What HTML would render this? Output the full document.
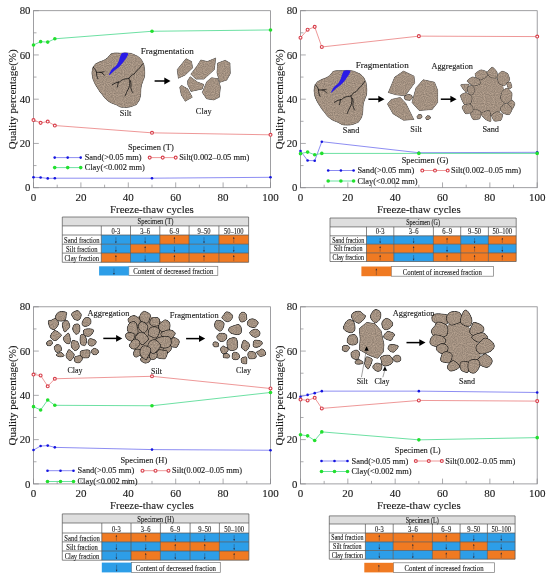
<!DOCTYPE html>
<html lang="en"><head><meta charset="utf-8"><title>Freeze-thaw cycles particle fractions</title>
<style>html,body{margin:0;padding:0;background:#fff}svg{display:block}[fill="#a39181"]{filter:url(#sp)}text{stroke:#1a1a1a;stroke-width:0.12px}</style></head>
<body>
<svg width="550" height="579" viewBox="0 0 550 579" font-family='"Liberation Serif", "DejaVu Serif", serif'>
<rect width="550" height="579" fill="#fff"/>
<defs><filter id="sp" x="-5%" y="-5%" width="110%" height="110%" color-interpolation-filters="sRGB"><feTurbulence type="fractalNoise" baseFrequency="0.9" numOctaves="1" seed="11"/><feColorMatrix type="matrix" values="1 0 0 0 0  1 0 0 0 0  1 0 0 0 0  0 0 0 0 1" result="n"/><feComposite in="SourceGraphic" in2="n" operator="arithmetic" k1="0.5" k2="0.75" k3="0" k4="0" result="m"/><feComposite in="m" in2="SourceGraphic" operator="in"/></filter></defs>
<rect x="33.5" y="10.7" width="237" height="177" fill="none" stroke="#88888c" stroke-width="0.8"/>
<line x1="33.5" y1="187.7" x2="33.5" y2="182.4" stroke="#88888c" stroke-width="0.7"/>
<line x1="57.2" y1="187.7" x2="57.2" y2="184.7" stroke="#88888c" stroke-width="0.7"/>
<line x1="80.9" y1="187.7" x2="80.9" y2="182.4" stroke="#88888c" stroke-width="0.7"/>
<line x1="104.6" y1="187.7" x2="104.6" y2="184.7" stroke="#88888c" stroke-width="0.7"/>
<line x1="128.3" y1="187.7" x2="128.3" y2="182.4" stroke="#88888c" stroke-width="0.7"/>
<line x1="152" y1="187.7" x2="152" y2="184.7" stroke="#88888c" stroke-width="0.7"/>
<line x1="175.7" y1="187.7" x2="175.7" y2="182.4" stroke="#88888c" stroke-width="0.7"/>
<line x1="199.4" y1="187.7" x2="199.4" y2="184.7" stroke="#88888c" stroke-width="0.7"/>
<line x1="223.1" y1="187.7" x2="223.1" y2="182.4" stroke="#88888c" stroke-width="0.7"/>
<line x1="246.8" y1="187.7" x2="246.8" y2="184.7" stroke="#88888c" stroke-width="0.7"/>
<line x1="270.5" y1="187.7" x2="270.5" y2="182.4" stroke="#88888c" stroke-width="0.7"/>
<line x1="33.5" y1="187.7" x2="38.8" y2="187.7" stroke="#88888c" stroke-width="0.7"/>
<line x1="33.5" y1="165.57" x2="36.5" y2="165.57" stroke="#88888c" stroke-width="0.7"/>
<line x1="33.5" y1="143.45" x2="38.8" y2="143.45" stroke="#88888c" stroke-width="0.7"/>
<line x1="33.5" y1="121.32" x2="36.5" y2="121.32" stroke="#88888c" stroke-width="0.7"/>
<line x1="33.5" y1="99.2" x2="38.8" y2="99.2" stroke="#88888c" stroke-width="0.7"/>
<line x1="33.5" y1="77.07" x2="36.5" y2="77.07" stroke="#88888c" stroke-width="0.7"/>
<line x1="33.5" y1="54.95" x2="38.8" y2="54.95" stroke="#88888c" stroke-width="0.7"/>
<line x1="33.5" y1="32.82" x2="36.5" y2="32.82" stroke="#88888c" stroke-width="0.7"/>
<line x1="33.5" y1="10.7" x2="38.8" y2="10.7" stroke="#88888c" stroke-width="0.7"/>
<text x="33.5" y="201" font-size="11" text-anchor="middle" fill="#1a1a1a" >0</text>
<text x="80.9" y="201" font-size="11" text-anchor="middle" fill="#1a1a1a" >20</text>
<text x="128.3" y="201" font-size="11" text-anchor="middle" fill="#1a1a1a" >40</text>
<text x="175.7" y="201" font-size="11" text-anchor="middle" fill="#1a1a1a" >60</text>
<text x="223.1" y="201" font-size="11" text-anchor="middle" fill="#1a1a1a" >80</text>
<text x="270.5" y="201" font-size="11" text-anchor="middle" fill="#1a1a1a" >100</text>
<text x="30.5" y="191.3" font-size="10.8" text-anchor="end" fill="#1a1a1a" >0</text>
<text x="30.5" y="147.05" font-size="10.8" text-anchor="end" fill="#1a1a1a" >20</text>
<text x="30.5" y="102.8" font-size="10.8" text-anchor="end" fill="#1a1a1a" >40</text>
<text x="30.5" y="58.55" font-size="10.8" text-anchor="end" fill="#1a1a1a" >60</text>
<text x="30.5" y="14.3" font-size="10.8" text-anchor="end" fill="#1a1a1a" >80</text>
<text x="151.9" y="212.9" font-size="10.9" text-anchor="middle" fill="#1a1a1a" >Freeze-thaw cycles</text>
<text x="16" y="99.3" font-size="11.0" text-anchor="middle" fill="#1a1a1a" transform="rotate(-90 16 99.3)">Quality percentage(%)</text>
<polyline points="33.5,44.99 40.61,41.67 47.72,42.12 54.83,38.8 152,31.28 270.5,29.95" fill="none" stroke="#5cdc98" stroke-width="0.9"/>
<circle cx="33.5" cy="44.99" r="1.8" fill="#22e02e"/>
<circle cx="40.61" cy="41.67" r="1.8" fill="#22e02e"/>
<circle cx="47.72" cy="42.12" r="1.8" fill="#22e02e"/>
<circle cx="54.83" cy="38.8" r="1.8" fill="#22e02e"/>
<circle cx="152" cy="31.28" r="1.8" fill="#22e02e"/>
<circle cx="270.5" cy="29.95" r="1.8" fill="#22e02e"/>
<polyline points="33.5,120 40.61,122.87 47.72,121.55 54.83,125.53 152,132.83 270.5,134.82" fill="none" stroke="#ec8c8c" stroke-width="0.9"/>
<circle cx="33.5" cy="120" r="1.45" fill="#fff" stroke="#d8404c" stroke-width="1.15"/>
<circle cx="40.61" cy="122.87" r="1.45" fill="#fff" stroke="#d8404c" stroke-width="1.15"/>
<circle cx="47.72" cy="121.55" r="1.45" fill="#fff" stroke="#d8404c" stroke-width="1.15"/>
<circle cx="54.83" cy="125.53" r="1.45" fill="#fff" stroke="#d8404c" stroke-width="1.15"/>
<circle cx="152" cy="132.83" r="1.45" fill="#fff" stroke="#d8404c" stroke-width="1.15"/>
<circle cx="270.5" cy="134.82" r="1.45" fill="#fff" stroke="#d8404c" stroke-width="1.15"/>
<polyline points="33.5,177.3 40.61,177.52 47.72,178.41 54.83,178.19 152,178.19 270.5,177.3" fill="none" stroke="#8080f0" stroke-width="0.9"/>
<circle cx="33.5" cy="177.3" r="1.3" fill="#1414e0"/>
<circle cx="40.61" cy="177.52" r="1.3" fill="#1414e0"/>
<circle cx="47.72" cy="178.41" r="1.3" fill="#1414e0"/>
<circle cx="54.83" cy="178.19" r="1.3" fill="#1414e0"/>
<circle cx="152" cy="178.19" r="1.3" fill="#1414e0"/>
<circle cx="270.5" cy="177.3" r="1.3" fill="#1414e0"/>
<text x="150.8" y="150" font-size="8.4" text-anchor="middle" fill="#1a1a1a" >Specimen (T)</text>
<line x1="54.7" y1="157.6" x2="80.7" y2="157.6" stroke="#8080f0" stroke-width="0.9"/>
<circle cx="54.7" cy="157.6" r="1.3" fill="#1414e0"/>
<circle cx="67.7" cy="157.6" r="1.3" fill="#1414e0"/>
<circle cx="80.7" cy="157.6" r="1.3" fill="#1414e0"/>
<text x="84.7" y="160.3" font-size="8.4" text-anchor="start" fill="#1a1a1a" >Sand(&gt;0.05 mm)</text>
<line x1="149.7" y1="157.6" x2="175.7" y2="157.6" stroke="#ec8c8c" stroke-width="0.9"/>
<circle cx="149.7" cy="157.6" r="1.45" fill="#fff" stroke="#d8404c" stroke-width="1.15"/>
<circle cx="162.7" cy="157.6" r="1.45" fill="#fff" stroke="#d8404c" stroke-width="1.15"/>
<circle cx="175.7" cy="157.6" r="1.45" fill="#fff" stroke="#d8404c" stroke-width="1.15"/>
<text x="179.2" y="160.3" font-size="8.4" text-anchor="start" fill="#1a1a1a" >Silt(0.002–0.05 mm)</text>
<line x1="54.7" y1="167.6" x2="80.7" y2="167.6" stroke="#5cdc98" stroke-width="0.9"/>
<circle cx="54.7" cy="167.6" r="1.8" fill="#22e02e"/>
<circle cx="67.7" cy="167.6" r="1.8" fill="#22e02e"/>
<circle cx="80.7" cy="167.6" r="1.8" fill="#22e02e"/>
<text x="84.7" y="170.3" font-size="8.4" text-anchor="start" fill="#1a1a1a" >Clay(&lt;0.002 mm)</text>
<path d="M112.36,53.27C115.42,52.49 116.22,52.99 120.64,52.89C125.05,52.79 125.01,52.35 128.91,52.89C132.81,53.43 132.32,53.57 135.27,54.93C138.23,56.29 137.84,55.88 139.98,57.98C142.12,60.09 142.07,60.17 143.29,62.82C144.51,65.47 144.16,64.52 144.56,67.91C144.97,71.3 145.26,71.81 144.82,75.55C144.38,79.28 143.83,78.86 142.91,81.91C141.99,84.96 141.99,83.27 141.38,87C140.77,90.73 141.47,91.84 140.62,95.91C139.77,99.98 140.14,99.56 138.2,102.27C136.27,104.99 137.37,104.67 133.36,106.09C129.36,107.52 127.93,107.96 123.18,107.62C118.43,107.28 119.62,106.58 115.55,104.82C111.47,103.05 111.64,103.89 107.91,101C104.18,98.12 104.43,97.56 101.55,94C98.66,90.44 99.13,90.86 97.09,87.64C95.05,84.41 95.2,84.79 93.91,81.91C92.62,79.02 92.76,79.87 92.25,76.82C91.75,73.76 91.49,73.51 92,70.46C92.51,67.4 92.64,67.47 94.16,65.36C95.69,63.26 94.74,64.19 97.73,62.56C100.71,60.93 102.31,61.05 105.36,59.25C108.42,57.46 107.32,57.41 109.18,55.82C111.05,54.22 109.31,54.05 112.36,53.27Z" fill="#a39181" stroke="#222" stroke-width="0.5"/>
<path d="M121.91,53.27C123.18,52.31 128.02,52.55 128.27,53.65C128.53,54.76 125.01,59.81 123.82,61.55C122.63,63.28 120.64,65.41 119.36,66.64C118.09,67.86 115.66,69.56 114.27,70.71C112.88,71.86 109.3,75.41 108.93,75.29C108.55,75.17 110.51,71.11 111.47,69.82C112.44,68.53 115.22,66.81 116.18,65.62C117.15,64.43 117.96,62.56 118.73,60.91C119.49,59.26 120.64,54.24 121.91,53.27Z" fill="#2a1be6"/>
<path d="M93.27,67.27C93.63,67.7 94.91,68.97 95.44,69.82C95.97,70.67 96.24,71.41 96.45,72.36C96.67,73.32 96.45,74.49 96.71,75.55C96.96,76.61 97.77,78.2 97.98,78.73" fill="none" stroke="#111" stroke-width="0.8" stroke-linejoin="round" stroke-linecap="round"/>
<path d="M96.45,72.36C97.3,72.41 100.23,72.13 101.55,72.62C102.86,73.11 103.88,74.85 104.35,75.29" fill="none" stroke="#111" stroke-width="0.8" stroke-linejoin="round" stroke-linecap="round"/>
<path d="M100.02,72.49C100.7,72.36 103.41,71.86 104.09,71.73" fill="none" stroke="#111" stroke-width="0.8" stroke-linejoin="round" stroke-linecap="round"/>
<path d="M142.53,63.84C142.1,64.47 140.87,66.59 139.98,67.65C139.09,68.72 138.18,69.14 137.18,70.2C136.19,71.26 135.02,73.13 134,74.02C132.98,74.91 131.92,74.82 131.07,75.55C130.23,76.27 129.84,77.79 128.91,78.35C127.98,78.9 126.64,78.58 125.47,78.86C124.31,79.13 122.89,79.49 121.91,80C120.93,80.51 120.57,81.46 119.62,81.91C118.66,82.36 117.39,82.21 116.18,82.67C114.97,83.14 113,84.37 112.36,84.71" fill="none" stroke="#111" stroke-width="0.8" stroke-linejoin="round" stroke-linecap="round"/>
<path d="M118.35,81.91C118.2,82.76 117.6,86.15 117.46,87" fill="none" stroke="#111" stroke-width="0.8" stroke-linejoin="round" stroke-linecap="round"/>
<path d="M128.91,78.35C129.06,79.15 129.8,81.63 129.8,83.18C129.8,84.73 129.38,86.26 128.91,87.64C128.44,89.02 127.64,90.08 127,91.46C126.36,92.83 125.41,95.17 125.09,95.91" fill="none" stroke="#111" stroke-width="0.8" stroke-linejoin="round" stroke-linecap="round"/>
<path d="M130.44,80.64C130.54,81.27 131.01,83.29 131.07,84.46C131.14,85.62 130.61,86.32 130.82,87.64C131.03,88.95 132.09,91.56 132.35,92.35" fill="none" stroke="#111" stroke-width="0.8" stroke-linejoin="round" stroke-linecap="round"/>
<line x1="154.6" y1="81" x2="165.3" y2="81" stroke="#000" stroke-width="1.5"/>
<polygon points="164.3,77.6 170.5,81 164.3,84.4" fill="#000"/>
<polygon points="177,69.55 186,58.42 191.73,61.36 192.87,67.91 185.18,75.27 178.15,78.55" fill="#a39181" stroke="#444" stroke-width="0.5" stroke-linejoin="round" />
<polygon points="190.58,74.13 196.64,66.27 200.73,59.73 207.27,61.36 215.95,57.76 214.64,69.55 204,79.36 195.82,79.36" fill="#a39181" stroke="#444" stroke-width="0.5" stroke-linejoin="round" />
<polygon points="217.42,63 225.27,60.05 230.18,63 230.51,73.64 226.91,80.18 219.55,82.64 216.76,72.82" fill="#a39181" stroke="#444" stroke-width="0.5" stroke-linejoin="round" />
<polygon points="187.31,81 190.09,76.42 197.46,81.82 204,84.27 202.36,89.18 190.91,91.64 187.64,85.09" fill="#a39181" stroke="#444" stroke-width="0.5" stroke-linejoin="round" />
<polygon points="202.04,92.46 206.46,81.82 211.36,77.4 217.91,78.55 220.69,86.73 219.55,97.36 213.82,100.15 206.46,99" fill="#a39181" stroke="#444" stroke-width="0.5" stroke-linejoin="round" />
<polygon points="179.46,87.22 181.42,85.09 187.96,88.86 192.55,97.36 185.18,101.46 181.09,94.91" fill="#a39181" stroke="#444" stroke-width="0.5" stroke-linejoin="round" />
<text x="167.3" y="53.8" font-size="9.1" text-anchor="middle" fill="#1a1a1a" >Fragmentation</text>
<text x="125.5" y="115.5" font-size="8.3" text-anchor="middle" fill="#1a1a1a" >Silt</text>
<text x="203.7" y="113.7" font-size="8.3" text-anchor="middle" fill="#1a1a1a" >Clay</text>
<rect x="300.5" y="10.7" width="236.7" height="177" fill="none" stroke="#88888c" stroke-width="0.8"/>
<line x1="300.5" y1="187.7" x2="300.5" y2="182.4" stroke="#88888c" stroke-width="0.7"/>
<line x1="324.17" y1="187.7" x2="324.17" y2="184.7" stroke="#88888c" stroke-width="0.7"/>
<line x1="347.84" y1="187.7" x2="347.84" y2="182.4" stroke="#88888c" stroke-width="0.7"/>
<line x1="371.51" y1="187.7" x2="371.51" y2="184.7" stroke="#88888c" stroke-width="0.7"/>
<line x1="395.18" y1="187.7" x2="395.18" y2="182.4" stroke="#88888c" stroke-width="0.7"/>
<line x1="418.85" y1="187.7" x2="418.85" y2="184.7" stroke="#88888c" stroke-width="0.7"/>
<line x1="442.52" y1="187.7" x2="442.52" y2="182.4" stroke="#88888c" stroke-width="0.7"/>
<line x1="466.19" y1="187.7" x2="466.19" y2="184.7" stroke="#88888c" stroke-width="0.7"/>
<line x1="489.86" y1="187.7" x2="489.86" y2="182.4" stroke="#88888c" stroke-width="0.7"/>
<line x1="513.53" y1="187.7" x2="513.53" y2="184.7" stroke="#88888c" stroke-width="0.7"/>
<line x1="537.2" y1="187.7" x2="537.2" y2="182.4" stroke="#88888c" stroke-width="0.7"/>
<line x1="300.5" y1="187.7" x2="305.8" y2="187.7" stroke="#88888c" stroke-width="0.7"/>
<line x1="300.5" y1="165.57" x2="303.5" y2="165.57" stroke="#88888c" stroke-width="0.7"/>
<line x1="300.5" y1="143.45" x2="305.8" y2="143.45" stroke="#88888c" stroke-width="0.7"/>
<line x1="300.5" y1="121.32" x2="303.5" y2="121.32" stroke="#88888c" stroke-width="0.7"/>
<line x1="300.5" y1="99.2" x2="305.8" y2="99.2" stroke="#88888c" stroke-width="0.7"/>
<line x1="300.5" y1="77.07" x2="303.5" y2="77.07" stroke="#88888c" stroke-width="0.7"/>
<line x1="300.5" y1="54.95" x2="305.8" y2="54.95" stroke="#88888c" stroke-width="0.7"/>
<line x1="300.5" y1="32.82" x2="303.5" y2="32.82" stroke="#88888c" stroke-width="0.7"/>
<line x1="300.5" y1="10.7" x2="305.8" y2="10.7" stroke="#88888c" stroke-width="0.7"/>
<text x="300.5" y="201" font-size="11" text-anchor="middle" fill="#1a1a1a" >0</text>
<text x="347.84" y="201" font-size="11" text-anchor="middle" fill="#1a1a1a" >20</text>
<text x="395.18" y="201" font-size="11" text-anchor="middle" fill="#1a1a1a" >40</text>
<text x="442.52" y="201" font-size="11" text-anchor="middle" fill="#1a1a1a" >60</text>
<text x="489.86" y="201" font-size="11" text-anchor="middle" fill="#1a1a1a" >80</text>
<text x="537.2" y="201" font-size="11" text-anchor="middle" fill="#1a1a1a" >100</text>
<text x="297.5" y="191.3" font-size="10.8" text-anchor="end" fill="#1a1a1a" >0</text>
<text x="297.5" y="147.05" font-size="10.8" text-anchor="end" fill="#1a1a1a" >20</text>
<text x="297.5" y="102.8" font-size="10.8" text-anchor="end" fill="#1a1a1a" >40</text>
<text x="297.5" y="58.55" font-size="10.8" text-anchor="end" fill="#1a1a1a" >60</text>
<text x="297.5" y="14.3" font-size="10.8" text-anchor="end" fill="#1a1a1a" >80</text>
<text x="418.75" y="212.9" font-size="10.9" text-anchor="middle" fill="#1a1a1a" >Freeze-thaw cycles</text>
<text x="283" y="99.3" font-size="11.0" text-anchor="middle" fill="#1a1a1a" transform="rotate(-90 283 99.3)">Quality percentage(%)</text>
<polyline points="300.5,150.97 307.6,160.49 314.7,160.71 321.8,141.68 418.85,152.74 537.2,152.3" fill="none" stroke="#8080f0" stroke-width="0.9"/>
<circle cx="300.5" cy="150.97" r="1.3" fill="#1414e0"/>
<circle cx="307.6" cy="160.49" r="1.3" fill="#1414e0"/>
<circle cx="314.7" cy="160.71" r="1.3" fill="#1414e0"/>
<circle cx="321.8" cy="141.68" r="1.3" fill="#1414e0"/>
<circle cx="418.85" cy="152.74" r="1.3" fill="#1414e0"/>
<circle cx="537.2" cy="152.3" r="1.3" fill="#1414e0"/>
<polyline points="300.5,153.63 307.6,152.08 314.7,154.73 321.8,153.41 418.85,153.41 537.2,153.41" fill="none" stroke="#5cdc98" stroke-width="0.9"/>
<circle cx="300.5" cy="153.63" r="1.8" fill="#22e02e"/>
<circle cx="307.6" cy="152.08" r="1.8" fill="#22e02e"/>
<circle cx="314.7" cy="154.73" r="1.8" fill="#22e02e"/>
<circle cx="321.8" cy="153.41" r="1.8" fill="#22e02e"/>
<circle cx="418.85" cy="153.41" r="1.8" fill="#22e02e"/>
<circle cx="537.2" cy="153.41" r="1.8" fill="#22e02e"/>
<polyline points="300.5,37.69 307.6,29.73 314.7,26.85 321.8,46.98 418.85,36.14 537.2,36.59" fill="none" stroke="#ec8c8c" stroke-width="0.9"/>
<circle cx="300.5" cy="37.69" r="1.45" fill="#fff" stroke="#d8404c" stroke-width="1.15"/>
<circle cx="307.6" cy="29.73" r="1.45" fill="#fff" stroke="#d8404c" stroke-width="1.15"/>
<circle cx="314.7" cy="26.85" r="1.45" fill="#fff" stroke="#d8404c" stroke-width="1.15"/>
<circle cx="321.8" cy="46.98" r="1.45" fill="#fff" stroke="#d8404c" stroke-width="1.15"/>
<circle cx="418.85" cy="36.14" r="1.45" fill="#fff" stroke="#d8404c" stroke-width="1.15"/>
<circle cx="537.2" cy="36.59" r="1.45" fill="#fff" stroke="#d8404c" stroke-width="1.15"/>
<text x="425" y="162.8" font-size="8.4" text-anchor="middle" fill="#1a1a1a" >Specimen (G)</text>
<line x1="328.2" y1="170.5" x2="353.6" y2="170.5" stroke="#8080f0" stroke-width="0.9"/>
<circle cx="328.2" cy="170.5" r="1.3" fill="#1414e0"/>
<circle cx="340.9" cy="170.5" r="1.3" fill="#1414e0"/>
<circle cx="353.6" cy="170.5" r="1.3" fill="#1414e0"/>
<text x="357.4" y="173.2" font-size="8.4" text-anchor="start" fill="#1a1a1a" >Sand(&gt;0.05 mm)</text>
<line x1="422.3" y1="170.5" x2="447.7" y2="170.5" stroke="#ec8c8c" stroke-width="0.9"/>
<circle cx="422.3" cy="170.5" r="1.45" fill="#fff" stroke="#d8404c" stroke-width="1.15"/>
<circle cx="435" cy="170.5" r="1.45" fill="#fff" stroke="#d8404c" stroke-width="1.15"/>
<circle cx="447.7" cy="170.5" r="1.45" fill="#fff" stroke="#d8404c" stroke-width="1.15"/>
<text x="451" y="173.2" font-size="8.4" text-anchor="start" fill="#1a1a1a" >Silt(0.002–0.05 mm)</text>
<line x1="328.2" y1="181" x2="353.6" y2="181" stroke="#5cdc98" stroke-width="0.9"/>
<circle cx="328.2" cy="181" r="1.8" fill="#22e02e"/>
<circle cx="340.9" cy="181" r="1.8" fill="#22e02e"/>
<circle cx="353.6" cy="181" r="1.8" fill="#22e02e"/>
<text x="357.4" y="183.7" font-size="8.4" text-anchor="start" fill="#1a1a1a" >Clay(&lt;0.002 mm)</text>
<path d="M334.46,70.87C337.52,70.09 338.32,70.59 342.74,70.49C347.15,70.39 347.11,69.95 351.01,70.49C354.91,71.03 354.42,71.17 357.37,72.53C360.33,73.89 359.94,73.48 362.08,75.58C364.22,77.69 364.17,77.77 365.39,80.42C366.61,83.07 366.26,82.12 366.66,85.51C367.07,88.9 367.36,89.41 366.92,93.15C366.48,96.88 365.93,96.46 365.01,99.51C364.09,102.56 364.09,100.87 363.48,104.6C362.87,108.33 363.57,109.44 362.72,113.51C361.87,117.58 362.24,117.16 360.3,119.87C358.37,122.59 359.47,122.27 355.46,123.69C351.46,125.12 350.03,125.56 345.28,125.22C340.53,124.88 341.72,124.18 337.65,122.42C333.57,120.65 333.74,121.49 330.01,118.6C326.28,115.72 326.53,115.16 323.65,111.6C320.76,108.04 321.23,108.46 319.19,105.24C317.15,102.01 317.3,102.39 316.01,99.51C314.72,96.62 314.86,97.47 314.35,94.42C313.85,91.36 313.59,91.11 314.1,88.06C314.61,85 314.74,85.07 316.26,82.96C317.79,80.86 316.84,81.79 319.83,80.16C322.81,78.53 324.41,78.65 327.46,76.85C330.52,75.06 329.42,75.01 331.28,73.42C333.15,71.82 331.41,71.65 334.46,70.87Z" fill="#a39181" stroke="#222" stroke-width="0.5"/>
<path d="M344.01,70.87C345.28,69.91 350.12,70.15 350.37,71.25C350.63,72.36 347.11,77.41 345.92,79.15C344.73,80.88 342.74,83.01 341.46,84.24C340.19,85.46 337.76,87.16 336.37,88.31C334.98,89.46 331.4,93.01 331.03,92.89C330.65,92.77 332.61,88.71 333.57,87.42C334.54,86.13 337.32,84.41 338.28,83.22C339.25,82.03 340.06,80.16 340.83,78.51C341.59,76.86 342.74,71.84 344.01,70.87Z" fill="#2a1be6"/>
<path d="M315.37,84.87C315.73,85.3 317.01,86.57 317.54,87.42C318.07,88.27 318.34,89.01 318.55,89.96C318.77,90.92 318.55,92.09 318.81,93.15C319.06,94.21 319.87,95.8 320.08,96.33" fill="none" stroke="#111" stroke-width="0.8" stroke-linejoin="round" stroke-linecap="round"/>
<path d="M318.55,89.96C319.4,90.01 322.33,89.73 323.65,90.22C324.96,90.71 325.98,92.45 326.45,92.89" fill="none" stroke="#111" stroke-width="0.8" stroke-linejoin="round" stroke-linecap="round"/>
<path d="M322.12,90.09C322.8,89.96 325.51,89.46 326.19,89.33" fill="none" stroke="#111" stroke-width="0.8" stroke-linejoin="round" stroke-linecap="round"/>
<path d="M364.63,81.44C364.2,82.07 362.97,84.19 362.08,85.25C361.19,86.32 360.28,86.74 359.28,87.8C358.29,88.86 357.12,90.73 356.1,91.62C355.08,92.51 354.02,92.42 353.17,93.15C352.33,93.87 351.94,95.39 351.01,95.95C350.08,96.5 348.74,96.18 347.57,96.46C346.41,96.73 344.99,97.09 344.01,97.6C343.03,98.11 342.67,99.06 341.72,99.51C340.76,99.96 339.49,99.81 338.28,100.27C337.07,100.74 335.1,101.97 334.46,102.31" fill="none" stroke="#111" stroke-width="0.8" stroke-linejoin="round" stroke-linecap="round"/>
<path d="M340.45,99.51C340.3,100.36 339.7,103.75 339.56,104.6" fill="none" stroke="#111" stroke-width="0.8" stroke-linejoin="round" stroke-linecap="round"/>
<path d="M351.01,95.95C351.16,96.75 351.9,99.23 351.9,100.78C351.9,102.33 351.48,103.86 351.01,105.24C350.54,106.62 349.74,107.68 349.1,109.06C348.46,110.43 347.51,112.77 347.19,113.51" fill="none" stroke="#111" stroke-width="0.8" stroke-linejoin="round" stroke-linecap="round"/>
<path d="M352.54,98.24C352.64,98.87 353.11,100.89 353.17,102.06C353.24,103.22 352.71,103.92 352.92,105.24C353.13,106.55 354.19,109.16 354.45,109.95" fill="none" stroke="#111" stroke-width="0.8" stroke-linejoin="round" stroke-linecap="round"/>
<line x1="368.4" y1="99.2" x2="379.3" y2="99.2" stroke="#000" stroke-width="1.5"/>
<polygon points="378.3,95.8 384.5,99.2 378.3,102.6" fill="#000"/>
<line x1="440.8" y1="99.2" x2="451.4" y2="99.2" stroke="#000" stroke-width="1.5"/>
<polygon points="450.4,95.8 456.6,99.2 450.4,102.6" fill="#000"/>
<polygon points="388,92.64 394.55,77.09 403.55,70.87 414.18,75.95 415,82.82 405.18,95.91 396.18,95.09" fill="#a39181" stroke="#444" stroke-width="0.5" stroke-linejoin="round" />
<polygon points="411.73,102.46 415.82,87.73 423.18,79.55 434.64,82 437.91,90.18 437.91,102.46 432.18,109.82 419.09,110.64" fill="#a39181" stroke="#444" stroke-width="0.5" stroke-linejoin="round" />
<polygon points="387.18,104.09 391.27,99.18 400.27,97.22 406,103.27 414.18,119.64 403.55,120.46 392.91,113.91" fill="#a39181" stroke="#444" stroke-width="0.5" stroke-linejoin="round" />
<polygon points="403.87,96.73 407.64,93.95 411.73,95.09 412.87,97.87 410.09,100.49 405.18,100" fill="#a39181" stroke="#222" stroke-width="0.6" stroke-linejoin="round" />
<polygon points="416.64,116.86 418.76,114.24 421.55,114.73 422.36,117.18 420.4,118.82 417.78,118.82" fill="#a39181" stroke="#222" stroke-width="0.6" stroke-linejoin="round" />
<polygon points="425.31,117.67 427.27,115.55 429.73,115.87 430.87,118 428.58,119.64 426.46,119.64" fill="#a39181" stroke="#222" stroke-width="0.6" stroke-linejoin="round" />
<path d="M474.44,82.03C478.69,77.17 481.58,75.29 487.45,75.09C493.32,74.89 495.75,77.72 499.59,81.16C503.44,84.6 502.71,84.77 503.93,89.83C505.14,94.89 506.62,97.18 504.8,102.84C502.97,108.51 501.79,111.28 496.12,114.12C490.46,116.95 486.18,116.4 480.51,114.98C474.85,113.57 474.47,112.5 471.84,108.05C469.21,103.59 468.63,101.98 469.24,95.9C469.84,89.83 470.19,86.88 474.44,82.03Z" fill="#a39181" stroke="#6b5d52" stroke-width="0.4"/>
<path d="M474.96,73.58C475.4,72.7 479.68,69.85 480.86,69.66C482.03,69.46 486.12,70.93 486.75,71.62C487.37,72.31 487.73,75.69 487.14,76.53C486.55,77.37 481.92,79.87 480.86,80.06C479.79,80.26 477.12,79.14 476.54,78.49C475.95,77.85 474.53,74.47 474.96,73.58Z" fill="#a39181" stroke="#333" stroke-width="0.5"/>
<path d="M486.76,72.9C486.85,71.82 491.21,67.11 492.25,67.01C493.29,66.91 496.67,70.84 497.16,71.92C497.65,73 497.75,77.22 497.16,77.81C496.57,78.4 492.31,78.3 491.27,77.81C490.23,77.32 486.66,73.98 486.76,72.9Z" fill="#a39181" stroke="#333" stroke-width="0.5"/>
<path d="M497.03,75.87C497.32,74.6 500.86,71.2 501.94,70.97C503.02,70.73 507.04,72.63 507.83,73.52C508.61,74.4 510.09,78.58 509.79,79.8C509.5,81.02 505.96,85.3 504.88,85.69C503.8,86.09 499.78,84.71 498.99,83.73C498.21,82.75 496.73,77.15 497.03,75.87Z" fill="#a39181" stroke="#333" stroke-width="0.5"/>
<path d="M506.62,83.29C506.81,82.56 510,81.52 510.54,81.91C511.09,82.3 512.31,86.49 512.12,87.21C511.92,87.94 509.13,89.57 508.58,89.18C508.03,88.78 506.42,84.01 506.62,83.29Z" fill="#a39181" stroke="#333" stroke-width="0.5"/>
<path d="M502.32,91.02C503.01,90 506.25,87.88 507.23,88.07C508.21,88.27 511.74,91.7 512.14,92.98C512.53,94.26 511.84,99.76 511.16,100.84C510.47,101.92 506.34,104.04 505.26,103.78C504.18,103.53 500.65,99.56 500.36,98.28C500.06,97.01 501.63,92.04 502.32,91.02Z" fill="#a39181" stroke="#333" stroke-width="0.5"/>
<path d="M507.29,103.86C507.68,102.98 511.41,99.94 512.2,99.94C512.98,99.94 515.14,102.88 515.14,103.86C515.14,104.84 512.88,109.26 512.2,109.75C511.51,110.24 508.76,109.36 508.27,108.77C507.78,108.18 506.9,104.75 507.29,103.86Z" fill="#a39181" stroke="#333" stroke-width="0.5"/>
<path d="M500.42,107.91C500.81,106.89 505.13,102.9 506.31,103C507.48,103.1 511.9,107.71 512.2,108.89C512.49,110.07 510.23,114.35 509.25,114.78C508.27,115.21 503.26,113.9 502.38,113.21C501.5,112.52 500.02,108.93 500.42,107.91Z" fill="#a39181" stroke="#333" stroke-width="0.5"/>
<path d="M491.36,115.35C491.66,114.37 496.12,111.52 497.25,111.42C498.39,111.32 502.36,113.48 502.75,114.37C503.15,115.25 502.03,119.57 501.18,120.26C500.34,120.95 495.29,121.73 494.31,121.24C493.33,120.75 491.07,116.33 491.36,115.35Z" fill="#a39181" stroke="#333" stroke-width="0.5"/>
<path d="M480.72,113.44C481.11,112.52 488.52,109.71 489.56,110.5C490.6,111.28 491.52,120.38 491.13,121.3C490.74,122.22 486.67,120.51 485.63,119.73C484.59,118.94 480.33,114.37 480.72,113.44Z" fill="#a39181" stroke="#333" stroke-width="0.5"/>
<path d="M469.76,112.26C469.96,111.18 473.95,108.96 475.06,108.92C476.18,108.88 480.46,110.89 480.96,111.87C481.45,112.85 480.76,117.96 479.97,118.74C479.19,119.53 474.12,120.37 473.1,119.72C472.08,119.07 469.57,113.34 469.76,112.26Z" fill="#a39181" stroke="#333" stroke-width="0.5"/>
<path d="M461.89,107.15C461.99,106.03 465.72,102.93 466.8,102.83C467.88,102.73 472.11,105.24 472.7,106.17C473.28,107.09 473.38,111.27 472.7,112.06C472.01,112.84 466.9,114.51 465.82,114.02C464.74,113.53 461.8,108.27 461.89,107.15Z" fill="#a39181" stroke="#333" stroke-width="0.5"/>
<path d="M460.19,95.42C460.39,94.24 464.91,92.38 466.08,92.47C467.26,92.57 471.48,95.32 471.98,96.4C472.47,97.48 471.78,102.49 470.99,103.27C470.21,104.06 465.2,105.04 464.12,104.26C463.04,103.47 460,96.6 460.19,95.42Z" fill="#a39181" stroke="#333" stroke-width="0.5"/>
<path d="M460.45,84.87C460.75,84.03 468.7,83.5 469.29,84.28C469.88,85.07 467.23,92.67 466.35,92.72C465.46,92.78 460.16,85.71 460.45,84.87Z" fill="#a39181" stroke="#333" stroke-width="0.5"/>
<path d="M467.2,87.22C467.59,86.4 471.32,84.97 472.11,85.26C472.89,85.55 475.05,89.19 475.05,90.17C475.05,91.15 472.79,94.74 472.11,95.08C471.42,95.41 468.67,94.29 468.18,93.51C467.69,92.72 466.8,88.05 467.2,87.22Z" fill="#a39181" stroke="#333" stroke-width="0.5"/>
<path d="M466.89,81.13C466.79,80.21 471.15,77.01 472.39,76.81C473.62,76.61 478.47,78.44 479.26,79.17C480.05,79.89 480.83,83.39 480.24,84.08C479.65,84.76 474.7,86.33 473.37,86.04C472.03,85.74 466.99,82.05 466.89,81.13Z" fill="#a39181" stroke="#333" stroke-width="0.5"/>
<text x="382.2" y="68.3" font-size="9.1" text-anchor="middle" fill="#1a1a1a" >Fragmentation</text>
<text x="452.2" y="68.5" font-size="8.3" text-anchor="middle" fill="#1a1a1a" >Aggregation</text>
<text x="351.1" y="133.2" font-size="8.3" text-anchor="middle" fill="#1a1a1a" >Sand</text>
<text x="416.1" y="131.8" font-size="8.3" text-anchor="middle" fill="#1a1a1a" >Silt</text>
<text x="490.7" y="131.8" font-size="8.3" text-anchor="middle" fill="#1a1a1a" >Sand</text>
<rect x="33.5" y="306.8" width="237" height="177.1" fill="none" stroke="#88888c" stroke-width="0.8"/>
<line x1="33.5" y1="483.9" x2="33.5" y2="478.6" stroke="#88888c" stroke-width="0.7"/>
<line x1="57.2" y1="483.9" x2="57.2" y2="480.9" stroke="#88888c" stroke-width="0.7"/>
<line x1="80.9" y1="483.9" x2="80.9" y2="478.6" stroke="#88888c" stroke-width="0.7"/>
<line x1="104.6" y1="483.9" x2="104.6" y2="480.9" stroke="#88888c" stroke-width="0.7"/>
<line x1="128.3" y1="483.9" x2="128.3" y2="478.6" stroke="#88888c" stroke-width="0.7"/>
<line x1="152" y1="483.9" x2="152" y2="480.9" stroke="#88888c" stroke-width="0.7"/>
<line x1="175.7" y1="483.9" x2="175.7" y2="478.6" stroke="#88888c" stroke-width="0.7"/>
<line x1="199.4" y1="483.9" x2="199.4" y2="480.9" stroke="#88888c" stroke-width="0.7"/>
<line x1="223.1" y1="483.9" x2="223.1" y2="478.6" stroke="#88888c" stroke-width="0.7"/>
<line x1="246.8" y1="483.9" x2="246.8" y2="480.9" stroke="#88888c" stroke-width="0.7"/>
<line x1="270.5" y1="483.9" x2="270.5" y2="478.6" stroke="#88888c" stroke-width="0.7"/>
<line x1="33.5" y1="483.9" x2="38.8" y2="483.9" stroke="#88888c" stroke-width="0.7"/>
<line x1="33.5" y1="461.76" x2="36.5" y2="461.76" stroke="#88888c" stroke-width="0.7"/>
<line x1="33.5" y1="439.62" x2="38.8" y2="439.62" stroke="#88888c" stroke-width="0.7"/>
<line x1="33.5" y1="417.49" x2="36.5" y2="417.49" stroke="#88888c" stroke-width="0.7"/>
<line x1="33.5" y1="395.35" x2="38.8" y2="395.35" stroke="#88888c" stroke-width="0.7"/>
<line x1="33.5" y1="373.21" x2="36.5" y2="373.21" stroke="#88888c" stroke-width="0.7"/>
<line x1="33.5" y1="351.07" x2="38.8" y2="351.07" stroke="#88888c" stroke-width="0.7"/>
<line x1="33.5" y1="328.94" x2="36.5" y2="328.94" stroke="#88888c" stroke-width="0.7"/>
<line x1="33.5" y1="306.8" x2="38.8" y2="306.8" stroke="#88888c" stroke-width="0.7"/>
<text x="33.5" y="497.2" font-size="11" text-anchor="middle" fill="#1a1a1a" >0</text>
<text x="80.9" y="497.2" font-size="11" text-anchor="middle" fill="#1a1a1a" >20</text>
<text x="128.3" y="497.2" font-size="11" text-anchor="middle" fill="#1a1a1a" >40</text>
<text x="175.7" y="497.2" font-size="11" text-anchor="middle" fill="#1a1a1a" >60</text>
<text x="223.1" y="497.2" font-size="11" text-anchor="middle" fill="#1a1a1a" >80</text>
<text x="270.5" y="497.2" font-size="11" text-anchor="middle" fill="#1a1a1a" >100</text>
<text x="30.5" y="487.5" font-size="10.8" text-anchor="end" fill="#1a1a1a" >0</text>
<text x="30.5" y="443.23" font-size="10.8" text-anchor="end" fill="#1a1a1a" >20</text>
<text x="30.5" y="398.95" font-size="10.8" text-anchor="end" fill="#1a1a1a" >40</text>
<text x="30.5" y="354.68" font-size="10.8" text-anchor="end" fill="#1a1a1a" >60</text>
<text x="30.5" y="310.4" font-size="10.8" text-anchor="end" fill="#1a1a1a" >80</text>
<text x="151.9" y="509.1" font-size="10.9" text-anchor="middle" fill="#1a1a1a" >Freeze-thaw cycles</text>
<text x="16" y="395.45" font-size="11.0" text-anchor="middle" fill="#1a1a1a" transform="rotate(-90 16 395.45)">Quality percentage(%)</text>
<polyline points="33.5,450.03 40.61,446.04 47.72,445.6 54.83,447.37 152,449.59 270.5,450.25" fill="none" stroke="#8080f0" stroke-width="0.9"/>
<circle cx="33.5" cy="450.03" r="1.3" fill="#1414e0"/>
<circle cx="40.61" cy="446.04" r="1.3" fill="#1414e0"/>
<circle cx="47.72" cy="445.6" r="1.3" fill="#1414e0"/>
<circle cx="54.83" cy="447.37" r="1.3" fill="#1414e0"/>
<circle cx="152" cy="449.59" r="1.3" fill="#1414e0"/>
<circle cx="270.5" cy="450.25" r="1.3" fill="#1414e0"/>
<polyline points="33.5,406.64 40.61,409.96 47.72,400 54.83,405.31 152,405.75 270.5,392.47" fill="none" stroke="#5cdc98" stroke-width="0.9"/>
<circle cx="33.5" cy="406.64" r="1.8" fill="#22e02e"/>
<circle cx="40.61" cy="409.96" r="1.8" fill="#22e02e"/>
<circle cx="47.72" cy="400" r="1.8" fill="#22e02e"/>
<circle cx="54.83" cy="405.31" r="1.8" fill="#22e02e"/>
<circle cx="152" cy="405.75" r="1.8" fill="#22e02e"/>
<circle cx="270.5" cy="392.47" r="1.8" fill="#22e02e"/>
<polyline points="33.5,374.54 40.61,375.43 47.72,386.27 54.83,378.75 152,376.31 270.5,388.49" fill="none" stroke="#ec8c8c" stroke-width="0.9"/>
<circle cx="33.5" cy="374.54" r="1.45" fill="#fff" stroke="#d8404c" stroke-width="1.15"/>
<circle cx="40.61" cy="375.43" r="1.45" fill="#fff" stroke="#d8404c" stroke-width="1.15"/>
<circle cx="47.72" cy="386.27" r="1.45" fill="#fff" stroke="#d8404c" stroke-width="1.15"/>
<circle cx="54.83" cy="378.75" r="1.45" fill="#fff" stroke="#d8404c" stroke-width="1.15"/>
<circle cx="152" cy="376.31" r="1.45" fill="#fff" stroke="#d8404c" stroke-width="1.15"/>
<circle cx="270.5" cy="388.49" r="1.45" fill="#fff" stroke="#d8404c" stroke-width="1.15"/>
<text x="143.8" y="462.5" font-size="8.4" text-anchor="middle" fill="#1a1a1a" >Specimen (H)</text>
<line x1="47.5" y1="470.7" x2="73.5" y2="470.7" stroke="#8080f0" stroke-width="0.9"/>
<circle cx="47.5" cy="470.7" r="1.3" fill="#1414e0"/>
<circle cx="60.5" cy="470.7" r="1.3" fill="#1414e0"/>
<circle cx="73.5" cy="470.7" r="1.3" fill="#1414e0"/>
<text x="77.5" y="473.4" font-size="8.4" text-anchor="start" fill="#1a1a1a" >Sand(&gt;0.05 mm)</text>
<line x1="142.5" y1="470.7" x2="168.5" y2="470.7" stroke="#ec8c8c" stroke-width="0.9"/>
<circle cx="142.5" cy="470.7" r="1.45" fill="#fff" stroke="#d8404c" stroke-width="1.15"/>
<circle cx="155.5" cy="470.7" r="1.45" fill="#fff" stroke="#d8404c" stroke-width="1.15"/>
<circle cx="168.5" cy="470.7" r="1.45" fill="#fff" stroke="#d8404c" stroke-width="1.15"/>
<text x="172" y="473.4" font-size="8.4" text-anchor="start" fill="#1a1a1a" >Silt(0.002–0.05 mm)</text>
<line x1="47.5" y1="481.5" x2="73.5" y2="481.5" stroke="#5cdc98" stroke-width="0.9"/>
<circle cx="47.5" cy="481.5" r="1.8" fill="#22e02e"/>
<circle cx="60.5" cy="481.5" r="1.8" fill="#22e02e"/>
<circle cx="73.5" cy="481.5" r="1.8" fill="#22e02e"/>
<text x="77.5" y="484.2" font-size="8.4" text-anchor="start" fill="#1a1a1a" >Clay(&lt;0.002 mm)</text>
<path d="M64.94,320.17C63.46,321.27 60.83,321.37 58.9,321.01C56.98,320.64 55.77,319.78 55.33,318.34C54.88,316.91 55.78,315.15 56.69,313.81C57.61,312.48 58,311.99 59.91,311.67C61.82,311.34 64.96,311.41 66.24,312.18C67.52,312.95 66.58,313.91 66.32,315.51C66.06,317.11 66.43,319.07 64.94,320.17Z" fill="#a39181" stroke="#111" stroke-width="0.75" stroke-linejoin="round"/>
<path d="M71.62,313.64C72.37,312.11 75.45,310.76 77.14,310.54C78.83,310.32 79.23,311.55 80.07,312.53C80.92,313.51 81.57,313.94 81.36,315.43C81.16,316.92 80.35,319.13 79.05,319.99C77.75,320.85 76.01,320.1 74.87,319.74C73.74,319.37 74.03,319.38 73.38,318.16C72.73,316.94 70.87,315.16 71.62,313.64Z" fill="#a39181" stroke="#111" stroke-width="0.75" stroke-linejoin="round"/>
<path d="M88.8,325.46C87.53,326.2 86.03,326.74 84.67,326.51C83.3,326.27 82.31,325.53 81.97,324.3C81.62,323.07 82.22,321.69 82.94,320.35C83.66,319.01 84.15,318 85.57,317.61C87,317.21 88.97,317.32 90.07,318.36C91.16,319.41 91.28,321.4 91.03,322.82C90.77,324.24 90.07,324.72 88.8,325.46Z" fill="#a39181" stroke="#111" stroke-width="0.75" stroke-linejoin="round"/>
<path d="M58.79,323.21C58.92,325.05 57.22,326.52 56.26,327.8C55.3,329.08 55.27,329.63 53.99,329.6C52.71,329.57 50.99,329.35 49.86,327.65C48.73,325.96 48.08,322.61 48.33,321.12C48.58,319.63 49.66,320.72 51.12,320.21C52.57,319.71 54.06,317.99 55.6,318.59C57.13,319.19 58.66,321.37 58.79,323.21Z" fill="#a39181" stroke="#111" stroke-width="0.75" stroke-linejoin="round"/>
<path d="M69.86,325.62C70.09,327.17 69.75,327.19 68.79,328.45C67.84,329.71 66.18,331.65 65.09,331.92C64.01,332.19 63.92,331.34 63.35,329.8C62.77,328.27 62.09,325.91 62.21,324.23C62.34,322.54 62.89,322.08 63.97,321.38C65.06,320.67 66.46,319.83 67.64,320.68C68.82,321.53 69.63,324.07 69.86,325.62Z" fill="#a39181" stroke="#111" stroke-width="0.75" stroke-linejoin="round"/>
<path d="M79.27,324.78C80.19,326.14 80.13,329.12 79.83,330.93C79.53,332.73 78.65,333.15 77.79,333.8C76.94,334.44 76.56,334.89 75.55,334.15C74.55,333.4 73.25,331.68 72.78,330.07C72.32,328.46 72.73,327.27 73.23,326.08C73.72,324.89 74.05,324.4 75.26,324.14C76.47,323.88 78.36,323.42 79.27,324.78Z" fill="#a39181" stroke="#111" stroke-width="0.75" stroke-linejoin="round"/>
<path d="M88.18,328.69C89.92,328.53 91.41,328.67 92.49,329.17C93.57,329.66 93.96,329.85 93.57,331.17C93.19,332.48 92.02,334.74 90.58,335.75C89.15,336.75 87.76,336.43 86.42,336.2C85.07,335.97 84.4,335.85 83.88,334.6C83.35,333.35 82.94,331.13 83.8,329.95C84.66,328.77 86.44,328.85 88.18,328.69Z" fill="#a39181" stroke="#111" stroke-width="0.75" stroke-linejoin="round"/>
<path d="M55.16,340.76C53.44,340.84 51.84,339.23 50.94,338.11C50.04,336.98 50.04,336.59 50.65,335.13C51.26,333.67 52.74,331.6 53.99,330.8C55.24,330.01 55.45,330.34 56.92,331.15C58.39,331.95 60.81,333.51 61.34,334.82C61.87,336.13 60.78,336.5 59.55,337.69C58.31,338.87 56.88,340.67 55.16,340.76Z" fill="#a39181" stroke="#111" stroke-width="0.75" stroke-linejoin="round"/>
<path d="M69.57,343.53C68.81,344.35 67.7,343.81 66.65,343.39C65.59,342.97 64.93,342.58 64.29,341.44C63.65,340.3 62.99,339.14 63.44,337.7C63.89,336.26 65.42,335.1 66.53,334.24C67.64,333.38 68.21,332.4 68.99,333.41C69.77,334.43 70.33,337.28 70.44,339.3C70.56,341.32 70.33,342.71 69.57,343.53Z" fill="#a39181" stroke="#111" stroke-width="0.75" stroke-linejoin="round"/>
<path d="M82.63,345.36C81.61,344.98 80.82,345.12 80.32,343.39C79.82,341.67 79.76,338.56 80.14,336.74C80.52,334.92 81.19,334.44 82.22,334.29C83.25,334.13 84.41,334.71 85.28,335.97C86.16,337.24 86.58,338.75 86.61,340.62C86.63,342.48 86.22,344.34 85.42,345.29C84.63,346.24 83.65,345.74 82.63,345.36Z" fill="#a39181" stroke="#111" stroke-width="0.75" stroke-linejoin="round"/>
<path d="M95.98,340.75C96.73,341.74 96.31,342.74 95.69,343.79C95.07,344.84 94.13,345.64 92.89,346C91.65,346.36 90.5,346.24 89.49,345.59C88.48,344.93 87.9,344.05 87.84,342.71C87.77,341.38 88.36,339.69 89.19,338.92C90.01,338.14 90.59,338.46 91.94,338.83C93.3,339.19 95.23,339.76 95.98,340.75Z" fill="#a39181" stroke="#111" stroke-width="0.75" stroke-linejoin="round"/>
<path d="M50.78,340.12C51.67,340.46 52.4,341.72 52.55,342.67C52.71,343.62 52.09,344.25 51.56,344.9C51.03,345.54 50.79,345.81 49.91,345.88C49.02,345.96 47.79,345.91 47.13,345.26C46.46,344.6 46.37,343.45 46.57,342.6C46.77,341.75 47.27,341.5 48.11,341C48.96,340.51 49.89,339.79 50.78,340.12Z" fill="#a39181" stroke="#111" stroke-width="0.75" stroke-linejoin="round"/>
<path d="M71.02,345.67C70.78,343.87 71.26,341.71 72.21,340.76C73.16,339.81 74.64,340.64 75.77,340.9C76.9,341.16 77.16,340.81 77.86,342.06C78.56,343.31 79.69,345.46 79.29,347.17C78.89,348.89 77.03,350.11 75.85,350.62C74.68,351.14 74.37,350.74 73.41,349.75C72.44,348.76 71.26,347.47 71.02,345.67Z" fill="#a39181" stroke="#111" stroke-width="0.75" stroke-linejoin="round"/>
<path d="M61.65,349.79C61.62,350.89 61.4,350.66 60.39,351.19C59.38,351.72 57.82,352.97 56.59,352.44C55.37,351.91 54.63,349.88 54.28,348.56C53.94,347.24 54.28,346.64 54.88,345.85C55.48,345.05 56.16,344.62 57.29,344.58C58.43,344.55 59.69,344.64 60.56,345.68C61.43,346.72 61.69,348.68 61.65,349.79Z" fill="#a39181" stroke="#111" stroke-width="0.75" stroke-linejoin="round"/>
<path d="M61.33,356.98C60.08,357.13 58.96,356.92 57.93,356.45C56.9,355.98 55.96,355.4 56.18,354.65C56.4,353.9 58.05,353.21 59.02,352.7C60,352.19 60.12,351.75 61.05,352.11C61.99,352.46 63.08,353.73 63.71,354.46C64.33,355.18 64.65,355.23 64.18,355.73C63.7,356.24 62.58,356.84 61.33,356.98Z" fill="#a39181" stroke="#111" stroke-width="0.75" stroke-linejoin="round"/>
<path d="M72.34,351.89C73.42,353.01 74.6,353.45 74.35,355.15C74.1,356.86 72.44,359.6 71.1,360.41C69.76,361.22 68.69,360.2 67.65,359.2C66.61,358.21 65.97,356.84 65.89,355.43C65.8,354.01 66.62,353.3 67.23,352.13C67.84,350.95 67.93,349.58 68.95,349.53C69.97,349.49 71.26,350.77 72.34,351.89Z" fill="#a39181" stroke="#111" stroke-width="0.75" stroke-linejoin="round"/>
<path d="M87.94,349.77C89.4,350.09 90,350.4 90.2,351.88C90.39,353.35 89.91,355.91 88.91,357.15C87.92,358.38 86.8,358.07 85.22,358.05C83.65,358.02 82.06,358.2 81.04,357.03C80.03,355.85 79.77,353.54 80.14,352.19C80.52,350.85 81.35,350.78 82.91,350.3C84.47,349.82 86.48,349.46 87.94,349.77Z" fill="#a39181" stroke="#111" stroke-width="0.75" stroke-linejoin="round"/>
<path d="M95.82,354.8C94.7,355.05 93.65,354.81 92.71,354.17C91.77,353.52 91.01,352.7 91.13,351.56C91.25,350.42 92.22,348.99 93.32,348.46C94.42,347.93 95.54,348.35 96.62,348.92C97.7,349.48 98.37,350.48 98.71,351.29C99.04,352.09 98.87,352.22 98.29,352.92C97.71,353.62 96.94,354.55 95.82,354.8Z" fill="#a39181" stroke="#111" stroke-width="0.75" stroke-linejoin="round"/>
<path d="M76.9,356.09C78.03,355.77 79.37,355.1 80.49,355.6C81.61,356.1 82.5,357.26 82.5,358.58C82.5,359.89 81.53,361.3 80.47,362.16C79.41,363.02 78.4,363.11 77.18,362.88C75.97,362.64 74.84,362.12 74.38,360.98C73.91,359.84 74.35,358.16 74.85,357.18C75.36,356.2 75.77,356.4 76.9,356.09Z" fill="#a39181" stroke="#111" stroke-width="0.75" stroke-linejoin="round"/>
<line x1="103.3" y1="338.4" x2="117.1" y2="338.4" stroke="#000" stroke-width="1.5"/>
<polygon points="116.1,335 122.3,338.4 116.1,341.8" fill="#000"/>
<path d="M131.07,320.66C132.83,318.66 137.64,316.44 140.93,315.73C144.21,315.03 147.73,315.61 150.78,316.44C153.83,317.26 156.52,319.37 159.22,320.66C161.92,321.95 164.85,322.06 166.96,324.18C169.07,326.29 170.64,330.63 171.89,333.32C173.13,336.02 174.54,338.13 174.42,340.36C174.3,342.59 172.89,344.35 171.18,346.69C169.47,349.04 167.55,352.44 164.15,354.43C160.75,356.43 154.41,358.07 150.78,358.65C147.14,359.24 144.91,359.12 142.33,357.95C139.75,356.78 137.17,354.31 135.3,351.62C133.42,348.92 132.13,344.35 131.07,341.77C130.02,339.19 129.08,338.48 128.96,336.14C128.85,333.79 130.02,330.27 130.37,327.69C130.72,325.11 129.32,322.65 131.07,320.66Z" fill="#a39181" stroke="none"/>
<path d="M140.35,321.39C140.06,322.94 139.21,325.31 137.49,326.01C135.77,326.71 133.59,325.8 131.76,324.9C129.93,324 128.97,322.88 128.36,321.51C127.74,320.14 127.57,319.26 128.69,318.05C129.81,316.84 131.91,315.4 133.96,315.46C136.01,315.51 137.68,317.12 138.96,318.31C140.24,319.5 140.64,319.85 140.35,321.39Z" fill="#a39181" stroke="#111" stroke-width="0.75" stroke-linejoin="round"/>
<path d="M149.63,318.82C149.04,320.53 149.04,322.59 147.38,323.12C145.73,323.65 142.91,322.73 141.35,321.45C139.79,320.16 139.41,318.58 139.58,316.71C139.76,314.84 141.09,313.16 142.23,312.1C143.37,311.04 143.67,310.92 145.28,311.41C146.9,311.9 149.44,313.07 150.31,314.56C151.18,316.04 150.21,317.1 149.63,318.82Z" fill="#a39181" stroke="#111" stroke-width="0.75" stroke-linejoin="round"/>
<path d="M155.81,317.49C157.25,317.59 158.41,317.24 159.13,318.67C159.84,320.11 160.02,323.16 159.36,324.67C158.7,326.17 157.17,325.95 155.81,326.2C154.45,326.45 153.8,326.58 152.56,325.92C151.32,325.26 149.74,324.44 149.61,322.89C149.47,321.35 150.64,319.27 151.88,318.19C153.12,317.11 154.36,317.4 155.81,317.49Z" fill="#a39181" stroke="#111" stroke-width="0.75" stroke-linejoin="round"/>
<path d="M169.2,330.28C168.49,332.08 168.19,332.33 166.36,332.39C164.53,332.44 161.57,331.98 160.04,330.54C158.52,329.1 158.21,327.02 158.73,325.18C159.25,323.34 161.24,322.4 162.64,321.32C164.05,320.25 164.31,319.38 165.76,319.79C167.21,320.2 169.21,321.28 169.9,323.38C170.58,325.47 169.9,328.48 169.2,330.28Z" fill="#a39181" stroke="#111" stroke-width="0.75" stroke-linejoin="round"/>
<path d="M129.04,333.56C128.16,332.12 127.05,330.45 127.23,328.32C127.41,326.19 128.4,324.21 129.93,322.91C131.47,321.6 133.43,321.05 134.91,321.79C136.39,322.54 136.79,324.2 137.34,326.62C137.89,329.04 138.81,332.11 137.66,333.89C136.52,335.67 133.32,335.59 131.6,335.52C129.87,335.46 129.91,335 129.04,333.56Z" fill="#a39181" stroke="#111" stroke-width="0.75" stroke-linejoin="round"/>
<path d="M138.79,328.56C137.95,326.91 138.1,325.92 138.69,324.54C139.27,323.15 140.18,321.76 141.71,321.64C143.23,321.52 145.07,322.7 146.31,323.93C147.55,325.16 148.07,326.18 147.92,327.78C147.78,329.37 146.59,330.91 145.58,331.91C144.58,332.91 144.26,333.45 142.9,332.78C141.54,332.11 139.64,330.21 138.79,328.56Z" fill="#a39181" stroke="#111" stroke-width="0.75" stroke-linejoin="round"/>
<path d="M159.57,331.73C159.26,333.74 157.94,336.96 156.2,337.9C154.46,338.84 152.44,337.03 150.86,336.42C149.29,335.81 148.68,336.29 148.33,334.85C147.98,333.41 148.14,330.84 149.1,329.22C150.05,327.6 151.37,327.01 153.11,326.74C154.84,326.48 156.46,326.88 157.76,327.88C159.05,328.88 159.88,329.73 159.57,331.73Z" fill="#a39181" stroke="#111" stroke-width="0.75" stroke-linejoin="round"/>
<path d="M160.77,333.74C160.9,332.52 162.19,331.96 164.07,331.17C165.96,330.39 168,329.51 170.21,329.81C172.41,330.1 174.32,331.44 175.1,332.64C175.88,333.83 175.09,334.48 174.11,335.77C173.12,337.05 172.31,338.77 170.17,339.07C168.04,339.37 165.3,338.33 163.42,337.26C161.54,336.2 160.64,334.95 160.77,333.74Z" fill="#a39181" stroke="#111" stroke-width="0.75" stroke-linejoin="round"/>
<path d="M129.15,340.56C127.89,340.08 126.97,339.48 126.24,338.31C125.51,337.14 125.04,335.91 125.49,334.73C125.94,333.54 126.7,332.58 128.48,332.39C130.26,332.21 133.11,332.99 134.37,333.8C135.63,334.6 135.14,335.04 134.76,336.43C134.39,337.81 133.63,339.88 132.5,340.71C131.38,341.53 130.4,341.04 129.15,340.56Z" fill="#a39181" stroke="#111" stroke-width="0.75" stroke-linejoin="round"/>
<path d="M135.27,337.68C135.55,335.88 137.67,333.49 139.44,332.58C141.22,331.68 142.34,331.94 144.15,333.15C145.97,334.37 148.2,336.85 148.52,338.66C148.84,340.47 146.99,340.98 145.76,342.2C144.54,343.41 143.92,344.85 142.38,344.72C140.84,344.6 139.49,342.99 138.06,341.58C136.64,340.17 134.99,339.48 135.27,337.68Z" fill="#a39181" stroke="#111" stroke-width="0.75" stroke-linejoin="round"/>
<path d="M170.36,346.31C169.28,345.22 170.11,343.52 170.35,342C170.59,340.49 170.58,339.58 171.58,338.73C172.58,337.87 173.79,337.24 175.35,337.73C176.91,338.22 178.91,339.51 179.36,341.2C179.81,342.89 178.33,344.93 177.61,346.18C176.88,347.42 177.19,347.41 175.75,347.43C174.3,347.46 171.44,347.39 170.36,346.31Z" fill="#a39181" stroke="#111" stroke-width="0.75" stroke-linejoin="round"/>
<path d="M131.04,342.23C132,340.84 132.75,339.57 134.17,339.14C135.59,338.72 136.98,339.19 138.14,340.08C139.29,340.98 140.16,342.1 139.95,343.62C139.73,345.15 138.41,346.62 137.04,347.73C135.67,348.83 134.65,349.48 133.11,349.14C131.57,348.81 129.76,347.44 129.35,346.06C128.93,344.67 130.07,343.61 131.04,342.23Z" fill="#a39181" stroke="#111" stroke-width="0.75" stroke-linejoin="round"/>
<path d="M163.25,350.94C162.35,350.23 162.68,349.99 163.1,349.08C163.52,348.16 163.94,347.11 165.34,346.36C166.75,345.6 168.89,344.9 170.12,345.31C171.35,345.71 171.45,347.24 171.49,348.36C171.53,349.48 171.1,350.04 170.31,350.89C169.53,351.75 168.98,352.62 167.57,352.63C166.15,352.64 164.14,351.65 163.25,350.94Z" fill="#a39181" stroke="#111" stroke-width="0.75" stroke-linejoin="round"/>
<path d="M139.32,355.74C138.27,356.35 137.17,357.39 136.02,357.26C134.87,357.13 134.02,356.24 133.58,355.08C133.14,353.92 133.33,352.62 133.81,351.45C134.29,350.29 134.75,349.55 135.98,349.23C137.21,348.92 138.91,348.86 139.97,349.85C141.02,350.85 141.39,353.01 141.26,354.19C141.13,355.36 140.37,355.12 139.32,355.74Z" fill="#a39181" stroke="#111" stroke-width="0.75" stroke-linejoin="round"/>
<path d="M156.24,353.93C156.67,352.46 157.4,350.75 158.64,349.98C159.89,349.21 160.72,349.77 162.46,350.07C164.21,350.36 166.67,349.93 167.37,351.46C168.06,352.99 166.83,356.22 165.93,357.72C165.03,359.22 164.77,359.04 162.87,358.96C160.98,358.88 157.78,358.32 156.45,357.32C155.12,356.31 155.8,355.39 156.24,353.93Z" fill="#a39181" stroke="#111" stroke-width="0.75" stroke-linejoin="round"/>
<path d="M149.71,361.26C149.14,362.16 149.01,362.13 148.01,362.5C147.02,362.88 146.24,363.6 144.74,363.13C143.25,362.66 141.1,361.38 140.56,360.16C140.03,358.93 141.04,357.7 142.07,357.01C143.1,356.32 143.95,356.52 145.71,356.72C147.47,356.91 150.08,357.08 150.88,357.99C151.68,358.89 150.29,360.36 149.71,361.26Z" fill="#a39181" stroke="#111" stroke-width="0.75" stroke-linejoin="round"/>
<path d="M156.38,352.52C157.54,353.31 157.44,354.47 157.27,355.72C157.11,356.97 156.69,358.01 155.55,358.76C154.41,359.51 152.81,359.87 151.6,359.48C150.38,359.1 149.78,358.06 149.48,356.83C149.18,355.6 149.7,354.36 150.1,353.35C150.5,352.34 150.22,351.94 151.47,351.77C152.73,351.6 155.22,351.73 156.38,352.52Z" fill="#a39181" stroke="#111" stroke-width="0.75" stroke-linejoin="round"/>
<path d="M170.92,339.49C171.43,341.2 171.85,343.32 170.68,345.06C169.51,346.8 167.76,348.13 165.07,348.19C162.39,348.26 159.2,347.02 157.27,345.39C155.35,343.76 154.9,341.71 155.44,340.05C155.98,338.38 157.44,337.77 159.97,337.06C162.51,336.35 165.92,336.01 168.11,336.49C170.3,336.98 170.4,337.78 170.92,339.49Z" fill="#a39181" stroke="#111" stroke-width="0.75" stroke-linejoin="round"/>
<path d="M152.4,353.46C150.74,352.76 148.44,350.61 147.78,348.36C147.13,346.11 148.04,343.92 149.14,342.19C150.23,340.46 151.69,339.98 153.28,339.72C154.87,339.46 155.62,339.69 157.08,340.88C158.53,342.08 160.75,343.49 160.56,345.68C160.36,347.87 157.72,350.27 156.09,351.82C154.46,353.38 154.06,354.15 152.4,353.46Z" fill="#a39181" stroke="#111" stroke-width="0.75" stroke-linejoin="round"/>
<path d="M143.14,345.99C144.83,345.22 146.97,345.88 148.53,346.73C150.09,347.57 151.06,348.16 150.92,350.2C150.77,352.24 148.84,355.02 147.83,356.93C146.81,358.83 147.26,360.03 145.85,359.71C144.44,359.39 141.93,357.17 140.77,355.34C139.62,353.52 139.6,352.45 140.07,350.58C140.54,348.71 141.45,346.76 143.14,345.99Z" fill="#a39181" stroke="#111" stroke-width="0.75" stroke-linejoin="round"/>
<line x1="186.1" y1="338.6" x2="200" y2="338.6" stroke="#000" stroke-width="1.5"/>
<polygon points="199,335.2 205.2,338.6 199,342" fill="#000"/>
<path d="M223.39,315.23C224.33,314 224.86,312.04 226.45,311.73C228.05,311.43 230.13,312.59 231.37,313.71C232.61,314.84 232.97,315.87 232.67,317.34C232.38,318.82 231.22,320.24 229.9,321.08C228.58,321.93 227.69,322.2 226.07,321.56C224.44,320.92 222.32,319.14 221.79,317.87C221.25,316.6 222.46,316.46 223.39,315.23Z" fill="#a39181" stroke="#111" stroke-width="0.75" stroke-linejoin="round"/>
<path d="M239.15,319.01C238.64,317.69 238.65,316.89 239.17,315.54C239.68,314.18 240.43,312.72 241.72,312.24C243.01,311.77 244.61,312.25 245.62,313.17C246.62,314.08 246.56,315.48 246.72,316.83C246.89,318.17 247.45,318.84 246.45,319.91C245.45,320.98 243.19,322.34 241.73,322.16C240.27,321.98 239.66,320.34 239.15,319.01Z" fill="#a39181" stroke="#111" stroke-width="0.75" stroke-linejoin="round"/>
<path d="M258.27,322.24C258.78,323.57 257.53,324.68 256.74,325.74C255.94,326.8 255.87,327.43 254.28,327.55C252.69,327.67 250.18,327.38 248.78,326.34C247.38,325.3 247.06,323.79 247.3,322.37C247.54,320.95 248.61,319.88 249.98,319.23C251.36,318.57 252.52,318.49 254.18,319.1C255.83,319.7 257.76,320.92 258.27,322.24Z" fill="#a39181" stroke="#111" stroke-width="0.75" stroke-linejoin="round"/>
<path d="M223.55,327.27C222.95,329.02 221.89,330.52 220.77,331.12C219.64,331.72 219.12,331.11 217.91,330.25C216.7,329.39 215.23,328.61 214.73,326.82C214.24,325.03 214.65,322.63 215.44,321.31C216.23,320 217.01,320.04 218.68,320.25C220.34,320.46 222.79,320.96 223.76,322.37C224.74,323.77 224.15,325.52 223.55,327.27Z" fill="#a39181" stroke="#111" stroke-width="0.75" stroke-linejoin="round"/>
<path d="M240.45,333.86C238.98,335.03 236.37,334.72 234.1,334.28C231.82,333.84 230.04,332.96 229.07,331.66C228.11,330.36 228.27,329.02 229.28,327.79C230.29,326.56 232.18,326.15 234.11,325.51C236.04,324.87 237.47,324.01 238.95,324.6C240.42,325.19 241.17,326.6 241.48,328.46C241.78,330.31 241.93,332.7 240.45,333.86Z" fill="#a39181" stroke="#111" stroke-width="0.75" stroke-linejoin="round"/>
<path d="M256.49,337.31C255.17,337.66 254.51,337.46 253.17,336.72C251.83,335.98 250.32,334.72 249.8,333.62C249.27,332.52 249.46,332.14 250.55,331.22C251.64,330.3 253.47,329.04 255.24,329.03C257.02,329.02 258.52,329.96 259.42,331.15C260.33,332.34 260.36,333.73 259.77,334.96C259.19,336.19 257.81,336.96 256.49,337.31Z" fill="#a39181" stroke="#111" stroke-width="0.75" stroke-linejoin="round"/>
<path d="M217.07,338.5C216.33,337.18 216.67,336.05 217.39,334.98C218.11,333.9 219.14,333.37 220.67,333.13C222.21,332.89 223.82,333.21 225.08,333.78C226.33,334.34 226.81,334.72 226.94,335.95C227.06,337.18 226.87,338.81 225.7,339.94C224.52,341.08 222.8,341.9 221.07,341.61C219.34,341.32 217.8,339.83 217.07,338.5Z" fill="#a39181" stroke="#111" stroke-width="0.75" stroke-linejoin="round"/>
<path d="M228.85,339.1C230.32,337.98 232.54,337.46 234.19,337.62C235.84,337.77 236.43,337.94 237.09,339.85C237.75,341.76 237.97,345.09 237.5,347.16C237.02,349.22 236.44,349.66 234.73,350.17C233.02,350.69 230.51,351.13 228.93,349.74C227.35,348.35 226.84,345.34 226.82,343.22C226.8,341.09 227.37,340.22 228.85,339.1Z" fill="#a39181" stroke="#111" stroke-width="0.75" stroke-linejoin="round"/>
<path d="M246.52,350.9C245.33,351.65 244.66,350.53 243.64,349.74C242.61,348.96 241.5,348.79 241.4,346.97C241.3,345.16 242.23,341.89 243.15,340.66C244.07,339.44 244.85,340.36 245.98,340.85C247.11,341.34 248.07,342.09 248.8,343.12C249.52,344.15 250.06,344.46 249.61,346.01C249.15,347.57 247.72,350.15 246.52,350.9Z" fill="#a39181" stroke="#111" stroke-width="0.75" stroke-linejoin="round"/>
<path d="M262.03,344.46C261.27,345.6 259.54,346.73 257.89,347.22C256.25,347.71 254.77,347.54 253.8,346.93C252.83,346.32 252.94,345.46 253.04,344.15C253.15,342.84 253.29,341.16 254.32,340.4C255.36,339.63 256.73,340.09 258.2,340.32C259.68,340.54 260.95,340.7 261.72,341.52C262.48,342.35 262.8,343.32 262.03,344.46Z" fill="#a39181" stroke="#111" stroke-width="0.75" stroke-linejoin="round"/>
<path d="M212.77,344.13C212.91,343.27 213.18,342.22 214.19,341.87C215.2,341.52 216.92,341.83 217.81,342.37C218.7,342.92 218.55,343.75 218.64,344.61C218.73,345.47 218.99,346.19 218.25,346.67C217.5,347.16 215.86,347.13 214.9,347.02C213.95,346.92 213.91,346.73 213.48,346.15C213.06,345.57 212.63,344.98 212.77,344.13Z" fill="#a39181" stroke="#111" stroke-width="0.75" stroke-linejoin="round"/>
<path d="M225.06,346.82C226.14,347.4 227.74,347.81 228.2,348.85C228.66,349.9 228.18,351.08 227.35,352.06C226.52,353.04 225.2,353.63 224.06,353.76C222.92,353.9 222.37,353.74 221.66,352.73C220.95,351.71 220.29,350.03 220.52,348.68C220.74,347.33 221.88,346.35 222.79,345.98C223.7,345.61 223.98,346.25 225.06,346.82Z" fill="#a39181" stroke="#111" stroke-width="0.75" stroke-linejoin="round"/>
<path d="M259.42,350.42C260.45,349.76 260.55,348.66 261.64,348.77C262.73,348.87 264.12,349.72 264.88,350.95C265.63,352.18 266.11,353.82 265.43,354.91C264.75,356 262.74,356.21 261.5,356.41C260.25,356.6 260.2,356.78 259.2,355.9C258.2,355.03 256.46,353.14 256.5,352.04C256.55,350.95 258.39,351.07 259.42,350.42Z" fill="#a39181" stroke="#111" stroke-width="0.75" stroke-linejoin="round"/>
<path d="M223.43,354.39C223.97,353.61 225.14,353.73 226.01,353.59C226.88,353.45 227.03,353.36 227.77,353.68C228.51,354 229.48,354.36 229.7,355.19C229.92,356.03 229.78,357.29 228.86,357.85C227.94,358.42 226.21,358.09 225.1,358.01C224,357.94 223.67,358.18 223.33,357.45C223,356.73 222.9,355.16 223.43,354.39Z" fill="#a39181" stroke="#111" stroke-width="0.75" stroke-linejoin="round"/>
<path d="M237.71,359.5C236.55,360 235,360.03 233.86,359.61C232.72,359.2 232.2,358.76 232.01,357.41C231.83,356.05 232.16,353.88 232.92,352.84C233.69,351.8 234.71,352.03 235.85,352.21C236.99,352.39 237.87,352.77 238.63,353.74C239.39,354.72 239.84,355.92 239.65,357.07C239.47,358.22 238.87,358.99 237.71,359.5Z" fill="#a39181" stroke="#111" stroke-width="0.75" stroke-linejoin="round"/>
<path d="M248.28,357.38C247.76,356.34 247.52,354.93 247.76,353.76C247.99,352.58 248.13,351.84 249.45,351.49C250.77,351.14 253.07,351.54 254.34,352C255.61,352.47 255.49,352.62 255.8,353.81C256.1,354.99 256.93,356.89 255.84,357.92C254.76,358.95 251.89,359.07 250.38,358.96C248.86,358.86 248.8,358.42 248.28,357.38Z" fill="#a39181" stroke="#111" stroke-width="0.75" stroke-linejoin="round"/>
<path d="M246.94,361.7C246.86,362.99 247.33,363.57 246.44,363.9C245.54,364.23 243.49,363.86 242.46,363.36C241.43,362.87 241.54,362.41 241.29,361.42C241.05,360.44 240.55,359.36 241.25,358.44C241.94,357.51 243.66,357 244.78,356.8C245.89,356.6 246.38,356.46 246.82,357.44C247.25,358.42 247.01,360.41 246.94,361.7Z" fill="#a39181" stroke="#111" stroke-width="0.75" stroke-linejoin="round"/>
<text x="108.4" y="316" font-size="8.4" text-anchor="middle" fill="#1a1a1a" >Aggregation</text>
<text x="194.2" y="317.8" font-size="8.4" text-anchor="middle" fill="#1a1a1a" >Fragmentation</text>
<text x="75" y="372.5" font-size="8" text-anchor="middle" fill="#1a1a1a" >Clay</text>
<text x="156.5" y="373.5" font-size="8" text-anchor="middle" fill="#1a1a1a" >Silt</text>
<text x="243.5" y="373" font-size="8" text-anchor="middle" fill="#1a1a1a" >Clay</text>
<rect x="300.5" y="306.8" width="236.7" height="177.1" fill="none" stroke="#88888c" stroke-width="0.8"/>
<line x1="300.5" y1="483.9" x2="300.5" y2="478.6" stroke="#88888c" stroke-width="0.7"/>
<line x1="324.17" y1="483.9" x2="324.17" y2="480.9" stroke="#88888c" stroke-width="0.7"/>
<line x1="347.84" y1="483.9" x2="347.84" y2="478.6" stroke="#88888c" stroke-width="0.7"/>
<line x1="371.51" y1="483.9" x2="371.51" y2="480.9" stroke="#88888c" stroke-width="0.7"/>
<line x1="395.18" y1="483.9" x2="395.18" y2="478.6" stroke="#88888c" stroke-width="0.7"/>
<line x1="418.85" y1="483.9" x2="418.85" y2="480.9" stroke="#88888c" stroke-width="0.7"/>
<line x1="442.52" y1="483.9" x2="442.52" y2="478.6" stroke="#88888c" stroke-width="0.7"/>
<line x1="466.19" y1="483.9" x2="466.19" y2="480.9" stroke="#88888c" stroke-width="0.7"/>
<line x1="489.86" y1="483.9" x2="489.86" y2="478.6" stroke="#88888c" stroke-width="0.7"/>
<line x1="513.53" y1="483.9" x2="513.53" y2="480.9" stroke="#88888c" stroke-width="0.7"/>
<line x1="537.2" y1="483.9" x2="537.2" y2="478.6" stroke="#88888c" stroke-width="0.7"/>
<line x1="300.5" y1="483.9" x2="305.8" y2="483.9" stroke="#88888c" stroke-width="0.7"/>
<line x1="300.5" y1="461.76" x2="303.5" y2="461.76" stroke="#88888c" stroke-width="0.7"/>
<line x1="300.5" y1="439.62" x2="305.8" y2="439.62" stroke="#88888c" stroke-width="0.7"/>
<line x1="300.5" y1="417.49" x2="303.5" y2="417.49" stroke="#88888c" stroke-width="0.7"/>
<line x1="300.5" y1="395.35" x2="305.8" y2="395.35" stroke="#88888c" stroke-width="0.7"/>
<line x1="300.5" y1="373.21" x2="303.5" y2="373.21" stroke="#88888c" stroke-width="0.7"/>
<line x1="300.5" y1="351.07" x2="305.8" y2="351.07" stroke="#88888c" stroke-width="0.7"/>
<line x1="300.5" y1="328.94" x2="303.5" y2="328.94" stroke="#88888c" stroke-width="0.7"/>
<line x1="300.5" y1="306.8" x2="305.8" y2="306.8" stroke="#88888c" stroke-width="0.7"/>
<text x="300.5" y="497.2" font-size="11" text-anchor="middle" fill="#1a1a1a" >0</text>
<text x="347.84" y="497.2" font-size="11" text-anchor="middle" fill="#1a1a1a" >20</text>
<text x="395.18" y="497.2" font-size="11" text-anchor="middle" fill="#1a1a1a" >40</text>
<text x="442.52" y="497.2" font-size="11" text-anchor="middle" fill="#1a1a1a" >60</text>
<text x="489.86" y="497.2" font-size="11" text-anchor="middle" fill="#1a1a1a" >80</text>
<text x="537.2" y="497.2" font-size="11" text-anchor="middle" fill="#1a1a1a" >100</text>
<text x="297.5" y="487.5" font-size="10.8" text-anchor="end" fill="#1a1a1a" >0</text>
<text x="297.5" y="443.23" font-size="10.8" text-anchor="end" fill="#1a1a1a" >20</text>
<text x="297.5" y="398.95" font-size="10.8" text-anchor="end" fill="#1a1a1a" >40</text>
<text x="297.5" y="354.68" font-size="10.8" text-anchor="end" fill="#1a1a1a" >60</text>
<text x="297.5" y="310.4" font-size="10.8" text-anchor="end" fill="#1a1a1a" >80</text>
<text x="418.75" y="509.1" font-size="10.9" text-anchor="middle" fill="#1a1a1a" >Freeze-thaw cycles</text>
<text x="283" y="395.45" font-size="11.0" text-anchor="middle" fill="#1a1a1a" transform="rotate(-90 283 395.45)">Quality percentage(%)</text>
<polyline points="300.5,396.68 307.6,394.91 314.7,393.14 321.8,391.14 418.85,391.14 537.2,392.47" fill="none" stroke="#8080f0" stroke-width="0.9"/>
<circle cx="300.5" cy="396.68" r="1.3" fill="#1414e0"/>
<circle cx="307.6" cy="394.91" r="1.3" fill="#1414e0"/>
<circle cx="314.7" cy="393.14" r="1.3" fill="#1414e0"/>
<circle cx="321.8" cy="391.14" r="1.3" fill="#1414e0"/>
<circle cx="418.85" cy="391.14" r="1.3" fill="#1414e0"/>
<circle cx="537.2" cy="392.47" r="1.3" fill="#1414e0"/>
<polyline points="300.5,399.56 307.6,400.44 314.7,397.79 321.8,408.41 418.85,400.44 537.2,401.11" fill="none" stroke="#ec8c8c" stroke-width="0.9"/>
<circle cx="300.5" cy="399.56" r="1.45" fill="#fff" stroke="#d8404c" stroke-width="1.15"/>
<circle cx="307.6" cy="400.44" r="1.45" fill="#fff" stroke="#d8404c" stroke-width="1.15"/>
<circle cx="314.7" cy="397.79" r="1.45" fill="#fff" stroke="#d8404c" stroke-width="1.15"/>
<circle cx="321.8" cy="408.41" r="1.45" fill="#fff" stroke="#d8404c" stroke-width="1.15"/>
<circle cx="418.85" cy="400.44" r="1.45" fill="#fff" stroke="#d8404c" stroke-width="1.15"/>
<circle cx="537.2" cy="401.11" r="1.45" fill="#fff" stroke="#d8404c" stroke-width="1.15"/>
<polyline points="300.5,434.75 307.6,435.86 314.7,440.51 321.8,431.88 418.85,439.85 537.2,437.63" fill="none" stroke="#5cdc98" stroke-width="0.9"/>
<circle cx="300.5" cy="434.75" r="1.8" fill="#22e02e"/>
<circle cx="307.6" cy="435.86" r="1.8" fill="#22e02e"/>
<circle cx="314.7" cy="440.51" r="1.8" fill="#22e02e"/>
<circle cx="321.8" cy="431.88" r="1.8" fill="#22e02e"/>
<circle cx="418.85" cy="439.85" r="1.8" fill="#22e02e"/>
<circle cx="537.2" cy="437.63" r="1.8" fill="#22e02e"/>
<text x="417.7" y="453" font-size="8.4" text-anchor="middle" fill="#1a1a1a" >Specimen (L)</text>
<line x1="321.5" y1="461" x2="347.5" y2="461" stroke="#8080f0" stroke-width="0.9"/>
<circle cx="321.5" cy="461" r="1.3" fill="#1414e0"/>
<circle cx="334.5" cy="461" r="1.3" fill="#1414e0"/>
<circle cx="347.5" cy="461" r="1.3" fill="#1414e0"/>
<text x="351.5" y="463.7" font-size="8.4" text-anchor="start" fill="#1a1a1a" >Sand(&gt;0.05 mm)</text>
<line x1="415.8" y1="461" x2="441.8" y2="461" stroke="#ec8c8c" stroke-width="0.9"/>
<circle cx="415.8" cy="461" r="1.45" fill="#fff" stroke="#d8404c" stroke-width="1.15"/>
<circle cx="428.8" cy="461" r="1.45" fill="#fff" stroke="#d8404c" stroke-width="1.15"/>
<circle cx="441.8" cy="461" r="1.45" fill="#fff" stroke="#d8404c" stroke-width="1.15"/>
<text x="445.3" y="463.7" font-size="8.4" text-anchor="start" fill="#1a1a1a" >Silt(0.002–0.05 mm)</text>
<line x1="321.5" y1="471.5" x2="347.5" y2="471.5" stroke="#5cdc98" stroke-width="0.9"/>
<circle cx="321.5" cy="471.5" r="1.8" fill="#22e02e"/>
<circle cx="334.5" cy="471.5" r="1.8" fill="#22e02e"/>
<circle cx="347.5" cy="471.5" r="1.8" fill="#22e02e"/>
<text x="351.5" y="474.2" font-size="8.4" text-anchor="start" fill="#1a1a1a" >Clay(&lt;0.002 mm)</text>
<polygon points="359.22,328.49 366.56,322.32 374.63,323.35 381.24,330.69 384.17,344.63 383.44,351.97 377.57,358.58 369.5,355.64 359.22,349.77 359.95,338.76" fill="#a39181" stroke="#222" stroke-width="0.6" stroke-linejoin="round" />
<path d="M356.86,322.77C355.14,321.94 352.84,320.32 351.96,318.43C351.08,316.53 351.05,314.75 352.47,313.28C353.88,311.82 356.86,310.93 359.04,311.09C361.22,311.26 362.07,312.98 363.37,314.11C364.67,315.23 366.11,315 365.55,316.71C364.98,318.41 362.3,321.4 360.56,322.61C358.82,323.82 358.58,323.61 356.86,322.77Z" fill="#a39181" stroke="#111" stroke-width="0.75" stroke-linejoin="round"/>
<path d="M370.37,316.78C370.27,314.51 371.85,312.3 373.18,310.88C374.51,309.47 375.52,309.34 377.03,309.7C378.54,310.06 380.12,310.82 380.72,312.68C381.33,314.55 380.97,317.03 380.06,319.03C379.15,321.04 377.47,322.05 376.19,322.69C374.92,323.33 374.85,323.41 373.68,322.23C372.52,321.05 370.47,319.05 370.37,316.78Z" fill="#a39181" stroke="#111" stroke-width="0.75" stroke-linejoin="round"/>
<path d="M388.56,318.85C390.08,319.63 392,321.06 392.58,322.69C393.16,324.33 392.67,325.58 391.46,327.01C390.25,328.43 388.21,329.57 386.52,329.82C384.83,330.07 383.95,329.7 383,328.26C382.06,326.82 381.4,324.52 381.81,322.63C382.21,320.74 383.67,319.56 385.02,318.81C386.38,318.05 387.05,318.07 388.56,318.85Z" fill="#a39181" stroke="#111" stroke-width="0.75" stroke-linejoin="round"/>
<path d="M350.18,332.74C348.08,332.42 344.99,331.13 343.85,329.45C342.7,327.78 343.55,326.29 344.46,324.35C345.37,322.41 346.63,320.41 348.38,319.75C350.12,319.1 351.86,319.81 353.2,321.08C354.53,322.35 354.82,324.13 355.05,326.12C355.28,328.11 355.33,329.72 354.36,331.05C353.39,332.37 352.28,333.05 350.18,332.74Z" fill="#a39181" stroke="#111" stroke-width="0.75" stroke-linejoin="round"/>
<path d="M393.01,337.68C392.28,338.91 392.39,340.1 391.02,340.43C389.65,340.75 387.67,340.13 386.16,339.31C384.66,338.5 383.34,337.88 383.5,336.36C383.65,334.83 385.45,332.6 386.92,331.71C388.38,330.82 389.28,331.39 390.83,331.91C392.38,332.43 394.22,333.13 394.65,334.29C395.09,335.44 393.74,336.45 393.01,337.68Z" fill="#a39181" stroke="#111" stroke-width="0.75" stroke-linejoin="round"/>
<path d="M357.86,342.19C357.4,344.1 355.61,344.72 353.85,345.11C352.08,345.49 350.4,344.89 349.04,344.13C347.68,343.37 347.15,342.89 347.04,341.32C346.94,339.75 347.57,337.6 348.51,336.27C349.46,334.95 350.24,334.84 351.77,334.7C353.29,334.55 354.94,334.04 356.16,335.54C357.38,337.04 358.33,340.28 357.86,342.19Z" fill="#a39181" stroke="#111" stroke-width="0.75" stroke-linejoin="round"/>
<path d="M388.3,349.59C387.46,348.43 387.9,347.54 388.32,346.52C388.74,345.49 388.85,344.76 390.39,344.45C391.94,344.13 394.43,344.56 396.03,344.95C397.63,345.35 398.49,345.28 398.4,346.43C398.32,347.58 396.79,349.52 395.61,350.7C394.43,351.89 393.97,352.56 392.5,352.34C391.04,352.12 389.13,350.76 388.3,349.59Z" fill="#a39181" stroke="#111" stroke-width="0.75" stroke-linejoin="round"/>
<path d="M343.15,345.73C344.1,345.21 345.85,345.05 347.18,345.41C348.52,345.77 349.52,346.66 349.82,347.53C350.11,348.39 349.35,348.86 348.66,349.73C347.97,350.59 347.6,351.73 346.37,351.86C345.14,351.99 343.31,351.16 342.52,350.38C341.73,349.61 342.28,348.91 342.41,347.98C342.54,347.05 342.19,346.24 343.15,345.73Z" fill="#a39181" stroke="#111" stroke-width="0.75" stroke-linejoin="round"/>
<path d="M356.93,349.99C358.34,350.27 359.08,351.37 359.51,352.74C359.94,354.1 359.53,355.48 359.08,356.82C358.62,358.15 358.57,359.15 357.24,359.42C355.9,359.7 353.67,359.3 352.39,358.18C351.12,357.05 350.85,355.17 350.87,353.81C350.88,352.44 351.25,352.1 352.46,351.34C353.67,350.57 355.52,349.71 356.93,349.99Z" fill="#a39181" stroke="#111" stroke-width="0.75" stroke-linejoin="round"/>
<path d="M360.21,359.93C361.34,360.37 362.39,361.19 362.79,361.98C363.2,362.77 363.24,363.4 362.25,363.86C361.26,364.32 359.12,364.28 357.84,364.27C356.57,364.27 356.48,364.37 355.89,363.85C355.31,363.33 354.67,362.51 354.92,361.69C355.17,360.88 356.08,360.13 357.14,359.78C358.2,359.43 359.08,359.49 360.21,359.93Z" fill="#a39181" stroke="#111" stroke-width="0.75" stroke-linejoin="round"/>
<path d="M369.85,366.75C368.98,368.21 368.71,369.49 367.67,369.01C366.63,368.53 365.16,365.96 364.64,364.36C364.11,362.75 364.67,362.51 365.05,360.99C365.43,359.46 365.19,357.2 366.54,356.74C367.9,356.28 370.71,357.7 371.8,358.69C372.9,359.68 372.41,360.09 372.01,361.7C371.62,363.31 370.72,365.29 369.85,366.75Z" fill="#a39181" stroke="#111" stroke-width="0.75" stroke-linejoin="round"/>
<path d="M388.16,365.58C386.18,366.21 384.26,366.46 382.85,365.48C381.44,364.49 381.48,362.38 381.12,360.65C380.76,358.92 379.59,357.93 381.06,356.82C382.52,355.72 386.18,354.72 388.46,355.12C390.74,355.52 391.59,357.39 392.44,358.83C393.29,360.28 393.58,360.99 392.73,362.34C391.87,363.69 390.14,364.96 388.16,365.58Z" fill="#a39181" stroke="#111" stroke-width="0.75" stroke-linejoin="round"/>
<path d="M395.41,361.84C394.22,361.34 393.43,360.12 392.93,359.25C392.43,358.38 392.33,358.29 392.91,357.48C393.49,356.66 394.49,355.52 395.82,355.19C397.16,354.86 398.57,354.96 399.59,355.82C400.62,356.68 401.1,358.32 400.96,359.51C400.82,360.69 400.02,361.28 398.91,361.74C397.8,362.21 396.61,362.33 395.41,361.84Z" fill="#a39181" stroke="#111" stroke-width="0.75" stroke-linejoin="round"/>
<path d="M379.71,363.41C380.92,363.78 381.5,363.9 381.86,365.08C382.21,366.25 382.18,368.01 381.49,369.28C380.81,370.54 379.87,371.29 378.45,371.41C377.04,371.53 375.57,370.87 374.42,369.89C373.27,368.91 372.43,367.84 372.71,366.5C372.99,365.17 374.4,363.83 375.8,363.21C377.2,362.59 378.5,363.03 379.71,363.41Z" fill="#a39181" stroke="#111" stroke-width="0.75" stroke-linejoin="round"/>
<polygon points="366.56,346.36 364.36,350.86 368.76,350.86" fill="#000"/>
<line x1="366.27" y1="350.8" x2="361.42" y2="377.22" stroke="#444" stroke-width="0.5"/>
<polygon points="384.91,366.33 382.71,370.83 387.11,370.83" fill="#000"/>
<line x1="384.61" y1="370.76" x2="382.85" y2="377.22" stroke="#444" stroke-width="0.5"/>
<text x="362.2" y="384" font-size="8" text-anchor="middle" fill="#1a1a1a" >Silt</text>
<text x="382" y="384" font-size="8" text-anchor="middle" fill="#1a1a1a" >Clay</text>
<line x1="406.5" y1="342.6" x2="420.3" y2="342.6" stroke="#000" stroke-width="1.5"/>
<polygon points="419.3,339.2 425.5,342.6 419.3,346" fill="#000"/>
<path d="M444.68,330.83C446.31,326.35 447.94,324.11 451.81,322.68C455.68,321.26 459.54,321.26 464.02,323.7C468.5,326.15 470.95,329.4 474.21,334.9C477.46,340.4 479.91,345.49 480.32,351.19C480.72,356.9 480.32,360.15 476.24,363.41C472.17,366.67 465.45,368.3 459.95,367.48C454.45,366.67 452.01,363.82 448.75,359.34C445.49,354.86 444.48,350.79 443.66,345.08C442.85,339.38 443.05,335.31 444.68,330.83Z" fill="#a39181" stroke="#6b5d52" stroke-width="0.4"/>
<path d="M444.31,314.2C447.17,314.63 447.25,314.76 448.06,316.42C448.87,318.08 449.56,320.67 448.34,322.5C447.13,324.32 444.73,325.5 441.98,325.53C439.23,325.57 436.61,323.84 434.6,322.66C432.58,321.47 432.08,321.29 431.91,319.61C431.74,317.94 431.27,315.36 433.75,314.28C436.23,313.19 441.45,313.77 444.31,314.2Z" fill="#a39181" stroke="#111" stroke-width="0.75" stroke-linejoin="round"/>
<path d="M449.57,312.6C451.55,311.14 453.91,311.3 456.13,311.55C458.35,311.8 459.52,312.06 460.67,313.86C461.83,315.65 462.94,318.47 461.91,320.54C460.89,322.6 457.87,323.33 455.55,324.17C453.23,325.01 452.17,325.8 450.31,324.74C448.46,323.67 446.4,321.28 446.26,318.86C446.11,316.43 447.6,314.06 449.57,312.6Z" fill="#a39181" stroke="#111" stroke-width="0.75" stroke-linejoin="round"/>
<path d="M460.36,320.54C460.49,318.04 461.83,313.98 463.17,311.96C464.51,309.95 465.37,309.27 467.05,310.47C468.73,311.68 470.66,315.38 471.56,318C472.46,320.62 472.14,321.9 471.56,323.58C470.99,325.27 470.51,326.26 468.7,326.43C466.89,326.6 464.16,325.61 462.5,324.43C460.83,323.25 460.22,323.03 460.36,320.54Z" fill="#a39181" stroke="#111" stroke-width="0.75" stroke-linejoin="round"/>
<path d="M479.72,333.43C477.74,334.41 475.97,335.87 473.95,335.6C471.93,335.34 470.02,334.2 469.63,332.1C469.24,330 471.06,327.06 472.01,325.11C472.96,323.16 472.34,322.27 474.39,322.36C476.43,322.44 480.36,323.87 482.26,325.54C484.15,327.2 484.38,329.11 483.87,330.69C483.37,332.27 481.7,332.45 479.72,333.43Z" fill="#a39181" stroke="#111" stroke-width="0.75" stroke-linejoin="round"/>
<path d="M431.29,332.2C430.66,329.45 433.57,327.46 435,325.4C436.42,323.34 436.03,321.8 438.42,321.89C440.81,321.98 445.16,323.4 446.93,325.83C448.71,328.26 447.89,331.84 447.3,334.04C446.71,336.23 445.8,335.81 443.97,336.83C442.15,337.85 440.71,340.07 438.18,339.15C435.64,338.22 431.93,334.95 431.29,332.2Z" fill="#a39181" stroke="#111" stroke-width="0.75" stroke-linejoin="round"/>
<path d="M482.85,341.86C480.84,342.54 479.67,342.6 477.67,342.05C475.68,341.49 473.99,340.25 472.88,339.07C471.78,337.9 470.73,337.4 472.14,336.17C473.55,334.93 477.35,333.39 479.93,332.9C482.51,332.41 483.5,332.57 485.06,333.72C486.62,334.87 488.19,337.02 487.75,338.65C487.31,340.28 484.87,341.18 482.85,341.86Z" fill="#a39181" stroke="#111" stroke-width="0.75" stroke-linejoin="round"/>
<path d="M438.48,335.09C440.69,335.42 442.19,336.04 443.65,337.27C445.11,338.5 446.37,339.42 445.78,341.24C445.18,343.06 442.98,345.36 440.68,346.37C438.38,347.38 436.44,347.03 434.27,346.3C432.09,345.58 430.12,344.89 429.79,342.76C429.46,340.63 430.9,337.17 432.64,335.63C434.38,334.1 436.28,334.77 438.48,335.09Z" fill="#a39181" stroke="#111" stroke-width="0.75" stroke-linejoin="round"/>
<path d="M475.82,347.29C475.99,345.01 477.99,343.83 479.92,341.98C481.85,340.13 482.84,337.87 485.48,338.03C488.13,338.19 491.58,340.58 493.16,342.78C494.73,344.97 494.79,346.89 493.35,349C491.9,351.12 488.79,352.46 485.93,353.34C483.08,354.21 481.09,354.6 479.07,353.39C477.05,352.18 475.65,349.57 475.82,347.29Z" fill="#a39181" stroke="#111" stroke-width="0.75" stroke-linejoin="round"/>
<path d="M436.56,346.95C436.91,345.76 437.39,345.41 438.76,344.74C440.14,344.06 441.57,343.1 443.43,343.59C445.29,344.09 447.48,345.46 448.06,347.21C448.63,348.95 447.49,351 446.29,352.31C445.08,353.62 443.89,354.08 442.03,353.76C440.18,353.43 438.09,352.05 437,350.69C435.9,349.33 436.2,348.14 436.56,346.95Z" fill="#a39181" stroke="#111" stroke-width="0.75" stroke-linejoin="round"/>
<path d="M484.03,354.2C486,353.3 485.73,353.75 487.39,354.97C489.05,356.19 491.92,358.03 492.31,360.32C492.7,362.61 490.98,365.08 489.32,366.41C487.67,367.73 486.51,367.7 484.06,366.96C481.61,366.21 478.37,364.16 477.07,362.67C475.76,361.17 476.14,361.18 477.53,359.48C478.92,357.79 482.06,355.11 484.03,354.2Z" fill="#a39181" stroke="#111" stroke-width="0.75" stroke-linejoin="round"/>
<path d="M444.06,352.05C445.54,351.45 447.35,351.45 448.99,352.15C450.64,352.84 452.09,353.46 452.29,355.5C452.48,357.55 451.21,360.94 449.96,362.37C448.71,363.79 447.86,362.92 446.04,362.63C444.22,362.34 441.75,362.41 440.86,360.91C439.97,359.41 440.96,356.88 441.6,355.11C442.24,353.33 442.58,352.64 444.06,352.05Z" fill="#a39181" stroke="#111" stroke-width="0.75" stroke-linejoin="round"/>
<path d="M458.44,368.31C457.14,369.38 454.86,370.48 452.94,370.88C451.02,371.29 449.91,371.37 448.83,370.32C447.74,369.27 446.87,367.52 447.51,365.63C448.16,363.75 450.59,361.78 452.07,360.91C453.54,360.05 453.41,360.38 454.88,361.31C456.36,362.24 458.72,364.16 459.44,365.56C460.15,366.96 459.73,367.25 458.44,368.31Z" fill="#a39181" stroke="#111" stroke-width="0.75" stroke-linejoin="round"/>
<path d="M469.78,367.29C469.51,369.15 469.52,371.31 468.18,372.16C466.85,373.01 464.66,372.2 463.1,371.54C461.55,370.88 460.99,370.51 460.42,368.86C459.85,367.2 459.58,364.77 460.24,363.24C460.89,361.72 461.84,361.32 463.7,361.24C465.57,361.16 468.33,361.63 469.55,362.84C470.76,364.05 470.06,365.42 469.78,367.29Z" fill="#a39181" stroke="#111" stroke-width="0.75" stroke-linejoin="round"/>
<path d="M479.87,365.37C479.47,367.6 478.09,370.19 476.54,371.75C474.98,373.31 473.75,373.58 472.1,373.18C470.45,372.79 468.98,372.09 468.29,369.77C467.61,367.44 467.49,363.63 468.68,361.56C469.87,359.5 472.28,359.62 474.26,359.43C476.23,359.24 477.43,359.42 478.56,360.61C479.68,361.79 480.27,363.14 479.87,365.37Z" fill="#a39181" stroke="#111" stroke-width="0.75" stroke-linejoin="round"/>
<text x="413.7" y="315.8" font-size="8.35" text-anchor="middle" fill="#1a1a1a" >Aggregation</text>
<text x="467" y="384" font-size="8" text-anchor="middle" fill="#1a1a1a" >Sand</text>
<rect x="62.3" y="217" width="186.3" height="8.9" fill="#dedede"/>
<rect x="62.3" y="225.9" width="186.3" height="36.4" fill="#fff"/>
<rect x="101.3" y="235" width="29.2" height="9.2" fill="#2d9ee8"/>
<rect x="130.5" y="235" width="29.3" height="9.2" fill="#2d9ee8"/>
<rect x="159.8" y="235" width="29.3" height="9.2" fill="#f07a22"/>
<rect x="189.1" y="235" width="29.8" height="9.2" fill="#2d9ee8"/>
<rect x="218.9" y="235" width="29.7" height="9.2" fill="#f07a22"/>
<rect x="101.3" y="244.2" width="29.2" height="8.9" fill="#2d9ee8"/>
<rect x="130.5" y="244.2" width="29.3" height="8.9" fill="#f07a22"/>
<rect x="159.8" y="244.2" width="29.3" height="8.9" fill="#2d9ee8"/>
<rect x="189.1" y="244.2" width="29.8" height="8.9" fill="#2d9ee8"/>
<rect x="218.9" y="244.2" width="29.7" height="8.9" fill="#2d9ee8"/>
<rect x="101.3" y="253.1" width="29.2" height="9.2" fill="#f07a22"/>
<rect x="130.5" y="253.1" width="29.3" height="9.2" fill="#2d9ee8"/>
<rect x="159.8" y="253.1" width="29.3" height="9.2" fill="#f07a22"/>
<rect x="189.1" y="253.1" width="29.8" height="9.2" fill="#f07a22"/>
<rect x="218.9" y="253.1" width="29.7" height="9.2" fill="#f07a22"/>
<line x1="62.3" y1="217" x2="248.6" y2="217" stroke="#555" stroke-width="0.7"/>
<line x1="62.3" y1="225.9" x2="248.6" y2="225.9" stroke="#555" stroke-width="0.7"/>
<line x1="62.3" y1="235" x2="248.6" y2="235" stroke="#555" stroke-width="0.7"/>
<line x1="62.3" y1="244.2" x2="248.6" y2="244.2" stroke="#555" stroke-width="0.7"/>
<line x1="62.3" y1="253.1" x2="248.6" y2="253.1" stroke="#555" stroke-width="0.7"/>
<line x1="62.3" y1="262.3" x2="248.6" y2="262.3" stroke="#555" stroke-width="0.7"/>
<line x1="62.3" y1="217" x2="62.3" y2="262.3" stroke="#555" stroke-width="0.7"/>
<line x1="101.3" y1="225.9" x2="101.3" y2="262.3" stroke="#555" stroke-width="0.7"/>
<line x1="130.5" y1="225.9" x2="130.5" y2="262.3" stroke="#555" stroke-width="0.7"/>
<line x1="159.8" y1="225.9" x2="159.8" y2="262.3" stroke="#555" stroke-width="0.7"/>
<line x1="189.1" y1="225.9" x2="189.1" y2="262.3" stroke="#555" stroke-width="0.7"/>
<line x1="218.9" y1="225.9" x2="218.9" y2="262.3" stroke="#555" stroke-width="0.7"/>
<line x1="248.6" y1="217" x2="248.6" y2="262.3" stroke="#555" stroke-width="0.7"/>
<text transform="translate(155.45,224.4) scale(0.82,1)" font-size="8" text-anchor="middle" fill="#1a1a1a">Specimen (T)</text>
<text transform="translate(115.9,233.6) scale(0.82,1)" font-size="8" text-anchor="middle" fill="#1a1a1a">0-3</text>
<text transform="translate(145.15,233.6) scale(0.82,1)" font-size="8" text-anchor="middle" fill="#1a1a1a">3–6</text>
<text transform="translate(174.45,233.6) scale(0.82,1)" font-size="8" text-anchor="middle" fill="#1a1a1a">6–9</text>
<text transform="translate(204,233.6) scale(0.82,1)" font-size="8" text-anchor="middle" fill="#1a1a1a">9–50</text>
<text transform="translate(233.75,233.6) scale(0.82,1)" font-size="8" text-anchor="middle" fill="#1a1a1a">50–100</text>
<text transform="translate(81.8,242.8) scale(0.8,1)" font-size="8.3" text-anchor="middle" fill="#1a1a1a">Sand fraction</text>
<line x1="115.9" y1="237.2" x2="115.9" y2="243" stroke="#2a2a3a" stroke-width="0.5" stroke-opacity="0.7"/>
<polygon points="115.1,241.4 115.9,243.2 116.7,241.4" fill="#2a2a3a"/>
<line x1="145.15" y1="237.2" x2="145.15" y2="243" stroke="#2a2a3a" stroke-width="0.5" stroke-opacity="0.7"/>
<polygon points="144.35,241.4 145.15,243.2 145.95,241.4" fill="#2a2a3a"/>
<line x1="174.45" y1="237.2" x2="174.45" y2="243" stroke="#2a2a3a" stroke-width="0.5" stroke-opacity="0.7"/>
<polygon points="173.65,238.8 174.45,237 175.25,238.8" fill="#2a2a3a"/>
<line x1="204" y1="237.2" x2="204" y2="243" stroke="#2a2a3a" stroke-width="0.5" stroke-opacity="0.7"/>
<polygon points="203.2,241.4 204,243.2 204.8,241.4" fill="#2a2a3a"/>
<line x1="233.75" y1="237.2" x2="233.75" y2="243" stroke="#2a2a3a" stroke-width="0.5" stroke-opacity="0.7"/>
<polygon points="232.95,238.8 233.75,237 234.55,238.8" fill="#2a2a3a"/>
<text transform="translate(81.8,251.7) scale(0.8,1)" font-size="8.3" text-anchor="middle" fill="#1a1a1a">Silt fraction</text>
<line x1="115.9" y1="246.4" x2="115.9" y2="251.9" stroke="#2a2a3a" stroke-width="0.5" stroke-opacity="0.7"/>
<polygon points="115.1,250.3 115.9,252.1 116.7,250.3" fill="#2a2a3a"/>
<line x1="145.15" y1="246.4" x2="145.15" y2="251.9" stroke="#2a2a3a" stroke-width="0.5" stroke-opacity="0.7"/>
<polygon points="144.35,248 145.15,246.2 145.95,248" fill="#2a2a3a"/>
<line x1="174.45" y1="246.4" x2="174.45" y2="251.9" stroke="#2a2a3a" stroke-width="0.5" stroke-opacity="0.7"/>
<polygon points="173.65,250.3 174.45,252.1 175.25,250.3" fill="#2a2a3a"/>
<line x1="204" y1="246.4" x2="204" y2="251.9" stroke="#2a2a3a" stroke-width="0.5" stroke-opacity="0.7"/>
<polygon points="203.2,250.3 204,252.1 204.8,250.3" fill="#2a2a3a"/>
<line x1="233.75" y1="246.4" x2="233.75" y2="251.9" stroke="#2a2a3a" stroke-width="0.5" stroke-opacity="0.7"/>
<polygon points="232.95,250.3 233.75,252.1 234.55,250.3" fill="#2a2a3a"/>
<text transform="translate(81.8,260.9) scale(0.8,1)" font-size="8.3" text-anchor="middle" fill="#1a1a1a">Clay fraction</text>
<line x1="115.9" y1="255.3" x2="115.9" y2="261.1" stroke="#2a2a3a" stroke-width="0.5" stroke-opacity="0.7"/>
<polygon points="115.1,256.9 115.9,255.1 116.7,256.9" fill="#2a2a3a"/>
<line x1="145.15" y1="255.3" x2="145.15" y2="261.1" stroke="#2a2a3a" stroke-width="0.5" stroke-opacity="0.7"/>
<polygon points="144.35,259.5 145.15,261.3 145.95,259.5" fill="#2a2a3a"/>
<line x1="174.45" y1="255.3" x2="174.45" y2="261.1" stroke="#2a2a3a" stroke-width="0.5" stroke-opacity="0.7"/>
<polygon points="173.65,256.9 174.45,255.1 175.25,256.9" fill="#2a2a3a"/>
<line x1="204" y1="255.3" x2="204" y2="261.1" stroke="#2a2a3a" stroke-width="0.5" stroke-opacity="0.7"/>
<polygon points="203.2,256.9 204,255.1 204.8,256.9" fill="#2a2a3a"/>
<line x1="233.75" y1="255.3" x2="233.75" y2="261.1" stroke="#2a2a3a" stroke-width="0.5" stroke-opacity="0.7"/>
<polygon points="232.95,256.9 233.75,255.1 234.55,256.9" fill="#2a2a3a"/>
<rect x="128.8" y="266.3" width="89" height="9.2" fill="#fff" stroke="#777" stroke-width="0.7"/>
<rect x="99.1" y="266.3" width="29.7" height="9.2" fill="#2d9ee8"/>
<line x1="113.95" y1="268.5" x2="113.95" y2="274.5" stroke="#2a2a3a" stroke-width="0.5" stroke-opacity="0.7"/>
<polygon points="113.15,272.9 113.95,274.7 114.75,272.9" fill="#2a2a3a"/>
<text transform="translate(173.3,273.9) scale(0.82,1)" font-size="8.3" text-anchor="middle" fill="#1a1a1a">Content of decreased fraction</text>
<rect x="330" y="218" width="186.2" height="8.9" fill="#dedede"/>
<rect x="330" y="226.9" width="186.2" height="34.6" fill="#fff"/>
<rect x="366.5" y="235.8" width="27.3" height="8.4" fill="#2d9ee8"/>
<rect x="393.8" y="235.8" width="39.6" height="8.4" fill="#2d9ee8"/>
<rect x="433.4" y="235.8" width="27.3" height="8.4" fill="#f07a22"/>
<rect x="460.7" y="235.8" width="27.7" height="8.4" fill="#2d9ee8"/>
<rect x="488.4" y="235.8" width="27.8" height="8.4" fill="#f07a22"/>
<rect x="366.5" y="244.2" width="27.3" height="8.7" fill="#f07a22"/>
<rect x="393.8" y="244.2" width="39.6" height="8.7" fill="#f07a22"/>
<rect x="433.4" y="244.2" width="27.3" height="8.7" fill="#2d9ee8"/>
<rect x="460.7" y="244.2" width="27.7" height="8.7" fill="#f07a22"/>
<rect x="488.4" y="244.2" width="27.8" height="8.7" fill="#2d9ee8"/>
<rect x="366.5" y="252.9" width="27.3" height="8.6" fill="#f07a22"/>
<rect x="393.8" y="252.9" width="39.6" height="8.6" fill="#2d9ee8"/>
<rect x="433.4" y="252.9" width="27.3" height="8.6" fill="#f07a22"/>
<rect x="460.7" y="252.9" width="27.7" height="8.6" fill="#f07a22"/>
<rect x="488.4" y="252.9" width="27.8" height="8.6" fill="#f07a22"/>
<line x1="330" y1="218" x2="516.2" y2="218" stroke="#555" stroke-width="0.7"/>
<line x1="330" y1="226.9" x2="516.2" y2="226.9" stroke="#555" stroke-width="0.7"/>
<line x1="330" y1="235.8" x2="516.2" y2="235.8" stroke="#555" stroke-width="0.7"/>
<line x1="330" y1="244.2" x2="516.2" y2="244.2" stroke="#555" stroke-width="0.7"/>
<line x1="330" y1="252.9" x2="516.2" y2="252.9" stroke="#555" stroke-width="0.7"/>
<line x1="330" y1="261.5" x2="516.2" y2="261.5" stroke="#555" stroke-width="0.7"/>
<line x1="330" y1="218" x2="330" y2="261.5" stroke="#555" stroke-width="0.7"/>
<line x1="366.5" y1="226.9" x2="366.5" y2="261.5" stroke="#555" stroke-width="0.7"/>
<line x1="393.8" y1="226.9" x2="393.8" y2="261.5" stroke="#555" stroke-width="0.7"/>
<line x1="433.4" y1="226.9" x2="433.4" y2="261.5" stroke="#555" stroke-width="0.7"/>
<line x1="460.7" y1="226.9" x2="460.7" y2="261.5" stroke="#555" stroke-width="0.7"/>
<line x1="488.4" y1="226.9" x2="488.4" y2="261.5" stroke="#555" stroke-width="0.7"/>
<line x1="516.2" y1="218" x2="516.2" y2="261.5" stroke="#555" stroke-width="0.7"/>
<text transform="translate(423.1,225.4) scale(0.82,1)" font-size="7.4" text-anchor="middle" fill="#1a1a1a">Specimen (G)</text>
<text transform="translate(380.15,234.4) scale(0.82,1)" font-size="8" text-anchor="middle" fill="#1a1a1a">0-3</text>
<text transform="translate(413.6,234.4) scale(0.82,1)" font-size="8" text-anchor="middle" fill="#1a1a1a">3–6</text>
<text transform="translate(447.05,234.4) scale(0.82,1)" font-size="8" text-anchor="middle" fill="#1a1a1a">6–9</text>
<text transform="translate(474.55,234.4) scale(0.82,1)" font-size="8" text-anchor="middle" fill="#1a1a1a">9–50</text>
<text transform="translate(502.3,234.4) scale(0.82,1)" font-size="8" text-anchor="middle" fill="#1a1a1a">50–100</text>
<text transform="translate(348.25,242.56) scale(0.8,1)" font-size="7.5" text-anchor="middle" fill="#1a1a1a">Sand fraction</text>
<line x1="380.15" y1="238" x2="380.15" y2="243" stroke="#2a2a3a" stroke-width="0.5" stroke-opacity="0.7"/>
<polygon points="379.35,241.4 380.15,243.2 380.95,241.4" fill="#2a2a3a"/>
<line x1="413.6" y1="238" x2="413.6" y2="243" stroke="#2a2a3a" stroke-width="0.5" stroke-opacity="0.7"/>
<polygon points="412.8,241.4 413.6,243.2 414.4,241.4" fill="#2a2a3a"/>
<line x1="447.05" y1="238" x2="447.05" y2="243" stroke="#2a2a3a" stroke-width="0.5" stroke-opacity="0.7"/>
<polygon points="446.25,239.6 447.05,237.8 447.85,239.6" fill="#2a2a3a"/>
<line x1="474.55" y1="238" x2="474.55" y2="243" stroke="#2a2a3a" stroke-width="0.5" stroke-opacity="0.7"/>
<polygon points="473.75,241.4 474.55,243.2 475.35,241.4" fill="#2a2a3a"/>
<line x1="502.3" y1="238" x2="502.3" y2="243" stroke="#2a2a3a" stroke-width="0.5" stroke-opacity="0.7"/>
<polygon points="501.5,239.6 502.3,237.8 503.1,239.6" fill="#2a2a3a"/>
<text transform="translate(348.25,251.26) scale(0.8,1)" font-size="7.5" text-anchor="middle" fill="#1a1a1a">Silt fraction</text>
<line x1="380.15" y1="246.4" x2="380.15" y2="251.7" stroke="#2a2a3a" stroke-width="0.5" stroke-opacity="0.7"/>
<polygon points="379.35,248 380.15,246.2 380.95,248" fill="#2a2a3a"/>
<line x1="413.6" y1="246.4" x2="413.6" y2="251.7" stroke="#2a2a3a" stroke-width="0.5" stroke-opacity="0.7"/>
<polygon points="412.8,248 413.6,246.2 414.4,248" fill="#2a2a3a"/>
<line x1="447.05" y1="246.4" x2="447.05" y2="251.7" stroke="#2a2a3a" stroke-width="0.5" stroke-opacity="0.7"/>
<polygon points="446.25,250.1 447.05,251.9 447.85,250.1" fill="#2a2a3a"/>
<line x1="474.55" y1="246.4" x2="474.55" y2="251.7" stroke="#2a2a3a" stroke-width="0.5" stroke-opacity="0.7"/>
<polygon points="473.75,248 474.55,246.2 475.35,248" fill="#2a2a3a"/>
<line x1="502.3" y1="246.4" x2="502.3" y2="251.7" stroke="#2a2a3a" stroke-width="0.5" stroke-opacity="0.7"/>
<polygon points="501.5,250.1 502.3,251.9 503.1,250.1" fill="#2a2a3a"/>
<text transform="translate(348.25,259.86) scale(0.8,1)" font-size="7.5" text-anchor="middle" fill="#1a1a1a">Clay fraction</text>
<line x1="380.15" y1="255.1" x2="380.15" y2="260.3" stroke="#2a2a3a" stroke-width="0.5" stroke-opacity="0.7"/>
<polygon points="379.35,256.7 380.15,254.9 380.95,256.7" fill="#2a2a3a"/>
<line x1="413.6" y1="255.1" x2="413.6" y2="260.3" stroke="#2a2a3a" stroke-width="0.5" stroke-opacity="0.7"/>
<polygon points="412.8,258.7 413.6,260.5 414.4,258.7" fill="#2a2a3a"/>
<line x1="447.05" y1="255.1" x2="447.05" y2="260.3" stroke="#2a2a3a" stroke-width="0.5" stroke-opacity="0.7"/>
<polygon points="446.25,256.7 447.05,254.9 447.85,256.7" fill="#2a2a3a"/>
<line x1="474.55" y1="255.1" x2="474.55" y2="260.3" stroke="#2a2a3a" stroke-width="0.5" stroke-opacity="0.7"/>
<polygon points="473.75,256.7 474.55,254.9 475.35,256.7" fill="#2a2a3a"/>
<line x1="502.3" y1="255.1" x2="502.3" y2="260.3" stroke="#2a2a3a" stroke-width="0.5" stroke-opacity="0.7"/>
<polygon points="501.5,256.7 502.3,254.9 503.1,256.7" fill="#2a2a3a"/>
<rect x="391.3" y="266.5" width="102.1" height="9.7" fill="#fff" stroke="#777" stroke-width="0.7"/>
<rect x="361.4" y="266.5" width="29.9" height="9.7" fill="#f07a22"/>
<line x1="376.35" y1="268.7" x2="376.35" y2="275.2" stroke="#2a2a3a" stroke-width="0.5" stroke-opacity="0.7"/>
<polygon points="375.55,270.3 376.35,268.5 377.15,270.3" fill="#2a2a3a"/>
<text transform="translate(442.35,274.6) scale(0.82,1)" font-size="8.3" text-anchor="middle" fill="#1a1a1a">Content of increased fraction</text>
<rect x="62.3" y="513.9" width="186.6" height="9.1" fill="#dedede"/>
<rect x="62.3" y="523" width="186.6" height="37.2" fill="#fff"/>
<rect x="101.8" y="533" width="29.2" height="8.9" fill="#f07a22"/>
<rect x="131" y="533" width="29.4" height="8.9" fill="#f07a22"/>
<rect x="160.4" y="533" width="29.7" height="8.9" fill="#2d9ee8"/>
<rect x="190.1" y="533" width="29.3" height="8.9" fill="#2d9ee8"/>
<rect x="219.4" y="533" width="29.5" height="8.9" fill="#2d9ee8"/>
<rect x="101.8" y="541.9" width="29.2" height="9.1" fill="#2d9ee8"/>
<rect x="131" y="541.9" width="29.4" height="9.1" fill="#2d9ee8"/>
<rect x="160.4" y="541.9" width="29.7" height="9.1" fill="#f07a22"/>
<rect x="190.1" y="541.9" width="29.3" height="9.1" fill="#f07a22"/>
<rect x="219.4" y="541.9" width="29.5" height="9.1" fill="#2d9ee8"/>
<rect x="101.8" y="551" width="29.2" height="9.2" fill="#2d9ee8"/>
<rect x="131" y="551" width="29.4" height="9.2" fill="#f07a22"/>
<rect x="160.4" y="551" width="29.7" height="9.2" fill="#2d9ee8"/>
<rect x="190.1" y="551" width="29.3" height="9.2" fill="#2d9ee8"/>
<rect x="219.4" y="551" width="29.5" height="9.2" fill="#f07a22"/>
<line x1="62.3" y1="513.9" x2="248.9" y2="513.9" stroke="#555" stroke-width="0.7"/>
<line x1="62.3" y1="523" x2="248.9" y2="523" stroke="#555" stroke-width="0.7"/>
<line x1="62.3" y1="533" x2="248.9" y2="533" stroke="#555" stroke-width="0.7"/>
<line x1="62.3" y1="541.9" x2="248.9" y2="541.9" stroke="#555" stroke-width="0.7"/>
<line x1="62.3" y1="551" x2="248.9" y2="551" stroke="#555" stroke-width="0.7"/>
<line x1="62.3" y1="560.2" x2="248.9" y2="560.2" stroke="#555" stroke-width="0.7"/>
<line x1="62.3" y1="513.9" x2="62.3" y2="560.2" stroke="#555" stroke-width="0.7"/>
<line x1="101.8" y1="523" x2="101.8" y2="560.2" stroke="#555" stroke-width="0.7"/>
<line x1="131" y1="523" x2="131" y2="560.2" stroke="#555" stroke-width="0.7"/>
<line x1="160.4" y1="523" x2="160.4" y2="560.2" stroke="#555" stroke-width="0.7"/>
<line x1="190.1" y1="523" x2="190.1" y2="560.2" stroke="#555" stroke-width="0.7"/>
<line x1="219.4" y1="523" x2="219.4" y2="560.2" stroke="#555" stroke-width="0.7"/>
<line x1="248.9" y1="513.9" x2="248.9" y2="560.2" stroke="#555" stroke-width="0.7"/>
<text transform="translate(155.6,521.5) scale(0.82,1)" font-size="8" text-anchor="middle" fill="#1a1a1a">Specimen (H)</text>
<text transform="translate(116.4,531.6) scale(0.82,1)" font-size="8" text-anchor="middle" fill="#1a1a1a">0-3</text>
<text transform="translate(145.7,531.6) scale(0.82,1)" font-size="8" text-anchor="middle" fill="#1a1a1a">3–6</text>
<text transform="translate(175.25,531.6) scale(0.82,1)" font-size="8" text-anchor="middle" fill="#1a1a1a">6–9</text>
<text transform="translate(204.75,531.6) scale(0.82,1)" font-size="8" text-anchor="middle" fill="#1a1a1a">9–50</text>
<text transform="translate(234.15,531.6) scale(0.82,1)" font-size="8" text-anchor="middle" fill="#1a1a1a">50–100</text>
<text transform="translate(82.05,540.5) scale(0.8,1)" font-size="8.3" text-anchor="middle" fill="#1a1a1a">Sand fraction</text>
<line x1="116.4" y1="535.2" x2="116.4" y2="540.7" stroke="#2a2a3a" stroke-width="0.5" stroke-opacity="0.7"/>
<polygon points="115.6,536.8 116.4,535 117.2,536.8" fill="#2a2a3a"/>
<line x1="145.7" y1="535.2" x2="145.7" y2="540.7" stroke="#2a2a3a" stroke-width="0.5" stroke-opacity="0.7"/>
<polygon points="144.9,536.8 145.7,535 146.5,536.8" fill="#2a2a3a"/>
<line x1="175.25" y1="535.2" x2="175.25" y2="540.7" stroke="#2a2a3a" stroke-width="0.5" stroke-opacity="0.7"/>
<polygon points="174.45,539.1 175.25,540.9 176.05,539.1" fill="#2a2a3a"/>
<line x1="204.75" y1="535.2" x2="204.75" y2="540.7" stroke="#2a2a3a" stroke-width="0.5" stroke-opacity="0.7"/>
<polygon points="203.95,539.1 204.75,540.9 205.55,539.1" fill="#2a2a3a"/>
<line x1="234.15" y1="535.2" x2="234.15" y2="540.7" stroke="#2a2a3a" stroke-width="0.5" stroke-opacity="0.7"/>
<polygon points="233.35,539.1 234.15,540.9 234.95,539.1" fill="#2a2a3a"/>
<text transform="translate(82.05,549.6) scale(0.8,1)" font-size="8.3" text-anchor="middle" fill="#1a1a1a">Silt fraction</text>
<line x1="116.4" y1="544.1" x2="116.4" y2="549.8" stroke="#2a2a3a" stroke-width="0.5" stroke-opacity="0.7"/>
<polygon points="115.6,548.2 116.4,550 117.2,548.2" fill="#2a2a3a"/>
<line x1="145.7" y1="544.1" x2="145.7" y2="549.8" stroke="#2a2a3a" stroke-width="0.5" stroke-opacity="0.7"/>
<polygon points="144.9,548.2 145.7,550 146.5,548.2" fill="#2a2a3a"/>
<line x1="175.25" y1="544.1" x2="175.25" y2="549.8" stroke="#2a2a3a" stroke-width="0.5" stroke-opacity="0.7"/>
<polygon points="174.45,545.7 175.25,543.9 176.05,545.7" fill="#2a2a3a"/>
<line x1="204.75" y1="544.1" x2="204.75" y2="549.8" stroke="#2a2a3a" stroke-width="0.5" stroke-opacity="0.7"/>
<polygon points="203.95,545.7 204.75,543.9 205.55,545.7" fill="#2a2a3a"/>
<line x1="234.15" y1="544.1" x2="234.15" y2="549.8" stroke="#2a2a3a" stroke-width="0.5" stroke-opacity="0.7"/>
<polygon points="233.35,548.2 234.15,550 234.95,548.2" fill="#2a2a3a"/>
<text transform="translate(82.05,558.8) scale(0.8,1)" font-size="8.3" text-anchor="middle" fill="#1a1a1a">Clay fraction</text>
<line x1="116.4" y1="553.2" x2="116.4" y2="559" stroke="#2a2a3a" stroke-width="0.5" stroke-opacity="0.7"/>
<polygon points="115.6,557.4 116.4,559.2 117.2,557.4" fill="#2a2a3a"/>
<line x1="145.7" y1="553.2" x2="145.7" y2="559" stroke="#2a2a3a" stroke-width="0.5" stroke-opacity="0.7"/>
<polygon points="144.9,554.8 145.7,553 146.5,554.8" fill="#2a2a3a"/>
<line x1="175.25" y1="553.2" x2="175.25" y2="559" stroke="#2a2a3a" stroke-width="0.5" stroke-opacity="0.7"/>
<polygon points="174.45,557.4 175.25,559.2 176.05,557.4" fill="#2a2a3a"/>
<line x1="204.75" y1="553.2" x2="204.75" y2="559" stroke="#2a2a3a" stroke-width="0.5" stroke-opacity="0.7"/>
<polygon points="203.95,557.4 204.75,559.2 205.55,557.4" fill="#2a2a3a"/>
<line x1="234.15" y1="553.2" x2="234.15" y2="559" stroke="#2a2a3a" stroke-width="0.5" stroke-opacity="0.7"/>
<polygon points="233.35,554.8 234.15,553 234.95,554.8" fill="#2a2a3a"/>
<rect x="131.4" y="562.6" width="88.9" height="9.8" fill="#fff" stroke="#777" stroke-width="0.7"/>
<rect x="101.8" y="562.6" width="29.6" height="9.8" fill="#2d9ee8"/>
<line x1="116.6" y1="564.8" x2="116.6" y2="571.4" stroke="#2a2a3a" stroke-width="0.5" stroke-opacity="0.7"/>
<polygon points="115.8,569.8 116.6,571.6 117.4,569.8" fill="#2a2a3a"/>
<text transform="translate(175.85,570.8) scale(0.82,1)" font-size="8.3" text-anchor="middle" fill="#1a1a1a">Content of decreased fraction</text>
<rect x="329.3" y="515.9" width="185.8" height="8.1" fill="#dedede"/>
<rect x="329.3" y="524" width="185.8" height="35.2" fill="#fff"/>
<rect x="365.4" y="533" width="27.8" height="8.9" fill="#f07a22"/>
<rect x="393.2" y="533" width="39.2" height="8.9" fill="#f07a22"/>
<rect x="432.4" y="533" width="27.7" height="8.9" fill="#f07a22"/>
<rect x="460.1" y="533" width="27.3" height="8.9" fill="#2d9ee8"/>
<rect x="487.4" y="533" width="27.7" height="8.9" fill="#2d9ee8"/>
<rect x="365.4" y="541.9" width="27.8" height="8.6" fill="#2d9ee8"/>
<rect x="393.2" y="541.9" width="39.2" height="8.6" fill="#f07a22"/>
<rect x="432.4" y="541.9" width="27.7" height="8.6" fill="#2d9ee8"/>
<rect x="460.1" y="541.9" width="27.3" height="8.6" fill="#f07a22"/>
<rect x="487.4" y="541.9" width="27.7" height="8.6" fill="#2d9ee8"/>
<rect x="365.4" y="550.5" width="27.8" height="8.7" fill="#2d9ee8"/>
<rect x="393.2" y="550.5" width="39.2" height="8.7" fill="#2d9ee8"/>
<rect x="432.4" y="550.5" width="27.7" height="8.7" fill="#f07a22"/>
<rect x="460.1" y="550.5" width="27.3" height="8.7" fill="#2d9ee8"/>
<rect x="487.4" y="550.5" width="27.7" height="8.7" fill="#f07a22"/>
<line x1="329.3" y1="515.9" x2="515.1" y2="515.9" stroke="#555" stroke-width="0.7"/>
<line x1="329.3" y1="524" x2="515.1" y2="524" stroke="#555" stroke-width="0.7"/>
<line x1="329.3" y1="533" x2="515.1" y2="533" stroke="#555" stroke-width="0.7"/>
<line x1="329.3" y1="541.9" x2="515.1" y2="541.9" stroke="#555" stroke-width="0.7"/>
<line x1="329.3" y1="550.5" x2="515.1" y2="550.5" stroke="#555" stroke-width="0.7"/>
<line x1="329.3" y1="559.2" x2="515.1" y2="559.2" stroke="#555" stroke-width="0.7"/>
<line x1="329.3" y1="515.9" x2="329.3" y2="559.2" stroke="#555" stroke-width="0.7"/>
<line x1="365.4" y1="524" x2="365.4" y2="559.2" stroke="#555" stroke-width="0.7"/>
<line x1="393.2" y1="524" x2="393.2" y2="559.2" stroke="#555" stroke-width="0.7"/>
<line x1="432.4" y1="524" x2="432.4" y2="559.2" stroke="#555" stroke-width="0.7"/>
<line x1="460.1" y1="524" x2="460.1" y2="559.2" stroke="#555" stroke-width="0.7"/>
<line x1="487.4" y1="524" x2="487.4" y2="559.2" stroke="#555" stroke-width="0.7"/>
<line x1="515.1" y1="515.9" x2="515.1" y2="559.2" stroke="#555" stroke-width="0.7"/>
<text transform="translate(422.2,522.5) scale(0.82,1)" font-size="7.4" text-anchor="middle" fill="#1a1a1a">Specimen (L)</text>
<text transform="translate(379.3,531.6) scale(0.82,1)" font-size="8" text-anchor="middle" fill="#1a1a1a">0-3</text>
<text transform="translate(412.8,531.6) scale(0.82,1)" font-size="8" text-anchor="middle" fill="#1a1a1a">3–6</text>
<text transform="translate(446.25,531.6) scale(0.82,1)" font-size="8" text-anchor="middle" fill="#1a1a1a">6–9</text>
<text transform="translate(473.75,531.6) scale(0.82,1)" font-size="8" text-anchor="middle" fill="#1a1a1a">9–50</text>
<text transform="translate(501.25,531.6) scale(0.82,1)" font-size="8" text-anchor="middle" fill="#1a1a1a">50–100</text>
<text transform="translate(347.35,540.26) scale(0.8,1)" font-size="7.5" text-anchor="middle" fill="#1a1a1a">Sand fraction</text>
<line x1="379.3" y1="535.2" x2="379.3" y2="540.7" stroke="#2a2a3a" stroke-width="0.5" stroke-opacity="0.7"/>
<polygon points="378.5,536.8 379.3,535 380.1,536.8" fill="#2a2a3a"/>
<line x1="412.8" y1="535.2" x2="412.8" y2="540.7" stroke="#2a2a3a" stroke-width="0.5" stroke-opacity="0.7"/>
<polygon points="412,536.8 412.8,535 413.6,536.8" fill="#2a2a3a"/>
<line x1="446.25" y1="535.2" x2="446.25" y2="540.7" stroke="#2a2a3a" stroke-width="0.5" stroke-opacity="0.7"/>
<polygon points="445.45,536.8 446.25,535 447.05,536.8" fill="#2a2a3a"/>
<line x1="473.75" y1="535.2" x2="473.75" y2="540.7" stroke="#2a2a3a" stroke-width="0.5" stroke-opacity="0.7"/>
<polygon points="472.95,539.1 473.75,540.9 474.55,539.1" fill="#2a2a3a"/>
<line x1="501.25" y1="535.2" x2="501.25" y2="540.7" stroke="#2a2a3a" stroke-width="0.5" stroke-opacity="0.7"/>
<polygon points="500.45,539.1 501.25,540.9 502.05,539.1" fill="#2a2a3a"/>
<text transform="translate(347.35,548.86) scale(0.8,1)" font-size="7.5" text-anchor="middle" fill="#1a1a1a">Silt fraction</text>
<line x1="379.3" y1="544.1" x2="379.3" y2="549.3" stroke="#2a2a3a" stroke-width="0.5" stroke-opacity="0.7"/>
<polygon points="378.5,547.7 379.3,549.5 380.1,547.7" fill="#2a2a3a"/>
<line x1="412.8" y1="544.1" x2="412.8" y2="549.3" stroke="#2a2a3a" stroke-width="0.5" stroke-opacity="0.7"/>
<polygon points="412,545.7 412.8,543.9 413.6,545.7" fill="#2a2a3a"/>
<line x1="446.25" y1="544.1" x2="446.25" y2="549.3" stroke="#2a2a3a" stroke-width="0.5" stroke-opacity="0.7"/>
<polygon points="445.45,547.7 446.25,549.5 447.05,547.7" fill="#2a2a3a"/>
<line x1="473.75" y1="544.1" x2="473.75" y2="549.3" stroke="#2a2a3a" stroke-width="0.5" stroke-opacity="0.7"/>
<polygon points="472.95,545.7 473.75,543.9 474.55,545.7" fill="#2a2a3a"/>
<line x1="501.25" y1="544.1" x2="501.25" y2="549.3" stroke="#2a2a3a" stroke-width="0.5" stroke-opacity="0.7"/>
<polygon points="500.45,547.7 501.25,549.5 502.05,547.7" fill="#2a2a3a"/>
<text transform="translate(347.35,557.56) scale(0.8,1)" font-size="7.5" text-anchor="middle" fill="#1a1a1a">Clay fraction</text>
<line x1="379.3" y1="552.7" x2="379.3" y2="558" stroke="#2a2a3a" stroke-width="0.5" stroke-opacity="0.7"/>
<polygon points="378.5,556.4 379.3,558.2 380.1,556.4" fill="#2a2a3a"/>
<line x1="412.8" y1="552.7" x2="412.8" y2="558" stroke="#2a2a3a" stroke-width="0.5" stroke-opacity="0.7"/>
<polygon points="412,556.4 412.8,558.2 413.6,556.4" fill="#2a2a3a"/>
<line x1="446.25" y1="552.7" x2="446.25" y2="558" stroke="#2a2a3a" stroke-width="0.5" stroke-opacity="0.7"/>
<polygon points="445.45,554.3 446.25,552.5 447.05,554.3" fill="#2a2a3a"/>
<line x1="473.75" y1="552.7" x2="473.75" y2="558" stroke="#2a2a3a" stroke-width="0.5" stroke-opacity="0.7"/>
<polygon points="472.95,556.4 473.75,558.2 474.55,556.4" fill="#2a2a3a"/>
<line x1="501.25" y1="552.7" x2="501.25" y2="558" stroke="#2a2a3a" stroke-width="0.5" stroke-opacity="0.7"/>
<polygon points="500.45,554.3 501.25,552.5 502.05,554.3" fill="#2a2a3a"/>
<rect x="393.4" y="562.8" width="101.2" height="9.6" fill="#fff" stroke="#777" stroke-width="0.7"/>
<rect x="364.3" y="562.8" width="29.1" height="9.6" fill="#f07a22"/>
<line x1="378.85" y1="565" x2="378.85" y2="571.4" stroke="#2a2a3a" stroke-width="0.5" stroke-opacity="0.7"/>
<polygon points="378.05,566.6 378.85,564.8 379.65,566.6" fill="#2a2a3a"/>
<text transform="translate(444,570.8) scale(0.82,1)" font-size="8.3" text-anchor="middle" fill="#1a1a1a">Content of increased fraction</text>
</svg>
</body></html>
